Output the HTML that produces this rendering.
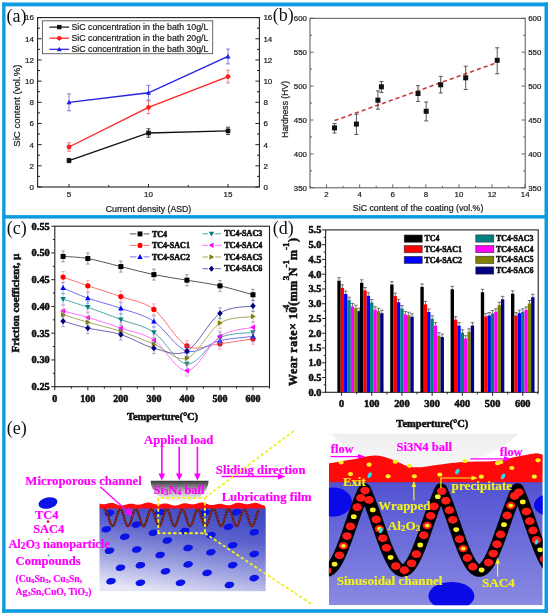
<!DOCTYPE html><html><head><meta charset="utf-8"><style>html,body{margin:0;padding:0;background:#fff;width:550px;height:615px;overflow:hidden}svg{display:block;filter:blur(0.5px)}</style></head><body>
<svg width="550" height="615" viewBox="0 0 550 615">
<rect x="0.00" y="0.00" width="550.00" height="615.00" fill="#fff" stroke="none" stroke-width="1" />
<rect x="37.60" y="17.60" width="221.80" height="169.40" fill="none" stroke="#222" stroke-width="1.1" />
<line x1="37.60" y1="187.00" x2="41.60" y2="187.00" stroke="#222" stroke-width="1" />
<line x1="259.40" y1="187.00" x2="255.40" y2="187.00" stroke="#222" stroke-width="1" />
<text x="34.00" y="189.86" font-size="8" text-anchor="end" font-family='"Liberation Sans", sans-serif' fill="#1c1c1c" stroke="#1c1c1c" stroke-width="0.22" >0</text>
<text x="263.40" y="189.86" font-size="8" text-anchor="start" font-family='"Liberation Sans", sans-serif' fill="#1c1c1c" stroke="#1c1c1c" stroke-width="0.22" >0</text>
<line x1="37.60" y1="176.41" x2="40.00" y2="176.41" stroke="#222" stroke-width="1" />
<line x1="259.40" y1="176.41" x2="257.00" y2="176.41" stroke="#222" stroke-width="1" />
<line x1="37.60" y1="165.82" x2="41.60" y2="165.82" stroke="#222" stroke-width="1" />
<line x1="259.40" y1="165.82" x2="255.40" y2="165.82" stroke="#222" stroke-width="1" />
<text x="34.00" y="168.69" font-size="8" text-anchor="end" font-family='"Liberation Sans", sans-serif' fill="#1c1c1c" stroke="#1c1c1c" stroke-width="0.22" >2</text>
<text x="263.40" y="168.69" font-size="8" text-anchor="start" font-family='"Liberation Sans", sans-serif' fill="#1c1c1c" stroke="#1c1c1c" stroke-width="0.22" >2</text>
<line x1="37.60" y1="155.24" x2="40.00" y2="155.24" stroke="#222" stroke-width="1" />
<line x1="259.40" y1="155.24" x2="257.00" y2="155.24" stroke="#222" stroke-width="1" />
<line x1="37.60" y1="144.65" x2="41.60" y2="144.65" stroke="#222" stroke-width="1" />
<line x1="259.40" y1="144.65" x2="255.40" y2="144.65" stroke="#222" stroke-width="1" />
<text x="34.00" y="147.51" font-size="8" text-anchor="end" font-family='"Liberation Sans", sans-serif' fill="#1c1c1c" stroke="#1c1c1c" stroke-width="0.22" >4</text>
<text x="263.40" y="147.51" font-size="8" text-anchor="start" font-family='"Liberation Sans", sans-serif' fill="#1c1c1c" stroke="#1c1c1c" stroke-width="0.22" >4</text>
<line x1="37.60" y1="134.06" x2="40.00" y2="134.06" stroke="#222" stroke-width="1" />
<line x1="259.40" y1="134.06" x2="257.00" y2="134.06" stroke="#222" stroke-width="1" />
<line x1="37.60" y1="123.47" x2="41.60" y2="123.47" stroke="#222" stroke-width="1" />
<line x1="259.40" y1="123.47" x2="255.40" y2="123.47" stroke="#222" stroke-width="1" />
<text x="34.00" y="126.34" font-size="8" text-anchor="end" font-family='"Liberation Sans", sans-serif' fill="#1c1c1c" stroke="#1c1c1c" stroke-width="0.22" >6</text>
<text x="263.40" y="126.34" font-size="8" text-anchor="start" font-family='"Liberation Sans", sans-serif' fill="#1c1c1c" stroke="#1c1c1c" stroke-width="0.22" >6</text>
<line x1="37.60" y1="112.89" x2="40.00" y2="112.89" stroke="#222" stroke-width="1" />
<line x1="259.40" y1="112.89" x2="257.00" y2="112.89" stroke="#222" stroke-width="1" />
<line x1="37.60" y1="102.30" x2="41.60" y2="102.30" stroke="#222" stroke-width="1" />
<line x1="259.40" y1="102.30" x2="255.40" y2="102.30" stroke="#222" stroke-width="1" />
<text x="34.00" y="105.16" font-size="8" text-anchor="end" font-family='"Liberation Sans", sans-serif' fill="#1c1c1c" stroke="#1c1c1c" stroke-width="0.22" >8</text>
<text x="263.40" y="105.16" font-size="8" text-anchor="start" font-family='"Liberation Sans", sans-serif' fill="#1c1c1c" stroke="#1c1c1c" stroke-width="0.22" >8</text>
<line x1="37.60" y1="91.71" x2="40.00" y2="91.71" stroke="#222" stroke-width="1" />
<line x1="259.40" y1="91.71" x2="257.00" y2="91.71" stroke="#222" stroke-width="1" />
<line x1="37.60" y1="81.12" x2="41.60" y2="81.12" stroke="#222" stroke-width="1" />
<line x1="259.40" y1="81.12" x2="255.40" y2="81.12" stroke="#222" stroke-width="1" />
<text x="34.00" y="83.99" font-size="8" text-anchor="end" font-family='"Liberation Sans", sans-serif' fill="#1c1c1c" stroke="#1c1c1c" stroke-width="0.22" >10</text>
<text x="263.40" y="83.99" font-size="8" text-anchor="start" font-family='"Liberation Sans", sans-serif' fill="#1c1c1c" stroke="#1c1c1c" stroke-width="0.22" >10</text>
<line x1="37.60" y1="70.54" x2="40.00" y2="70.54" stroke="#222" stroke-width="1" />
<line x1="259.40" y1="70.54" x2="257.00" y2="70.54" stroke="#222" stroke-width="1" />
<line x1="37.60" y1="59.95" x2="41.60" y2="59.95" stroke="#222" stroke-width="1" />
<line x1="259.40" y1="59.95" x2="255.40" y2="59.95" stroke="#222" stroke-width="1" />
<text x="34.00" y="62.81" font-size="8" text-anchor="end" font-family='"Liberation Sans", sans-serif' fill="#1c1c1c" stroke="#1c1c1c" stroke-width="0.22" >12</text>
<text x="263.40" y="62.81" font-size="8" text-anchor="start" font-family='"Liberation Sans", sans-serif' fill="#1c1c1c" stroke="#1c1c1c" stroke-width="0.22" >12</text>
<line x1="37.60" y1="49.36" x2="40.00" y2="49.36" stroke="#222" stroke-width="1" />
<line x1="259.40" y1="49.36" x2="257.00" y2="49.36" stroke="#222" stroke-width="1" />
<line x1="37.60" y1="38.78" x2="41.60" y2="38.78" stroke="#222" stroke-width="1" />
<line x1="259.40" y1="38.78" x2="255.40" y2="38.78" stroke="#222" stroke-width="1" />
<text x="34.00" y="41.64" font-size="8" text-anchor="end" font-family='"Liberation Sans", sans-serif' fill="#1c1c1c" stroke="#1c1c1c" stroke-width="0.22" >14</text>
<text x="263.40" y="41.64" font-size="8" text-anchor="start" font-family='"Liberation Sans", sans-serif' fill="#1c1c1c" stroke="#1c1c1c" stroke-width="0.22" >14</text>
<line x1="37.60" y1="28.19" x2="40.00" y2="28.19" stroke="#222" stroke-width="1" />
<line x1="259.40" y1="28.19" x2="257.00" y2="28.19" stroke="#222" stroke-width="1" />
<line x1="37.60" y1="17.60" x2="41.60" y2="17.60" stroke="#222" stroke-width="1" />
<line x1="259.40" y1="17.60" x2="255.40" y2="17.60" stroke="#222" stroke-width="1" />
<text x="34.00" y="20.46" font-size="8" text-anchor="end" font-family='"Liberation Sans", sans-serif' fill="#1c1c1c" stroke="#1c1c1c" stroke-width="0.22" >16</text>
<text x="263.40" y="20.46" font-size="8" text-anchor="start" font-family='"Liberation Sans", sans-serif' fill="#1c1c1c" stroke="#1c1c1c" stroke-width="0.22" >16</text>
<line x1="69.00" y1="187.00" x2="69.00" y2="184.00" stroke="#222" stroke-width="1" />
<text x="69.00" y="197.06" font-size="8" text-anchor="middle" font-family='"Liberation Sans", sans-serif' fill="#1c1c1c" stroke="#1c1c1c" stroke-width="0.22" >5</text>
<line x1="148.50" y1="187.00" x2="148.50" y2="184.00" stroke="#222" stroke-width="1" />
<text x="148.50" y="197.06" font-size="8" text-anchor="middle" font-family='"Liberation Sans", sans-serif' fill="#1c1c1c" stroke="#1c1c1c" stroke-width="0.22" >10</text>
<line x1="228.00" y1="187.00" x2="228.00" y2="184.00" stroke="#222" stroke-width="1" />
<text x="228.00" y="197.06" font-size="8" text-anchor="middle" font-family='"Liberation Sans", sans-serif' fill="#1c1c1c" stroke="#1c1c1c" stroke-width="0.22" >15</text>
<line x1="108.75" y1="187.00" x2="108.75" y2="185.00" stroke="#222" stroke-width="1" />
<line x1="188.25" y1="187.00" x2="188.25" y2="185.00" stroke="#222" stroke-width="1" />
<text x="148.50" y="211.83" font-size="8.75" text-anchor="middle" font-family='"Liberation Sans", sans-serif' fill="#1c1c1c" stroke="#1c1c1c" stroke-width="0.22" >Current density (ASD)</text>
<text transform="translate(16.50,105.70) rotate(-90)" x="0" y="3.44" font-size="9.6" text-anchor="middle" font-family='"Liberation Sans", sans-serif' fill="#1c1c1c" stroke="#1c1c1c" stroke-width="0.22" >SiC content (vol.%)</text>
<path d="M69.00,160.53 L148.50,133.00 L228.00,130.89" fill="none" stroke="#111" stroke-width="1.3"/>
<line x1="69.00" y1="162.65" x2="69.00" y2="158.41" stroke="#333" stroke-width="0.9" />
<line x1="67.00" y1="162.65" x2="71.00" y2="162.65" stroke="#333" stroke-width="0.9" />
<line x1="67.00" y1="158.41" x2="71.00" y2="158.41" stroke="#333" stroke-width="0.9" />
<rect x="66.70" y="158.23" width="4.60" height="4.60" fill="#111" stroke="none" stroke-width="1" />
<line x1="148.50" y1="137.24" x2="148.50" y2="128.77" stroke="#333" stroke-width="0.9" />
<line x1="146.50" y1="137.24" x2="150.50" y2="137.24" stroke="#333" stroke-width="0.9" />
<line x1="146.50" y1="128.77" x2="150.50" y2="128.77" stroke="#333" stroke-width="0.9" />
<rect x="146.20" y="130.70" width="4.60" height="4.60" fill="#111" stroke="none" stroke-width="1" />
<line x1="228.00" y1="134.59" x2="228.00" y2="127.18" stroke="#333" stroke-width="0.9" />
<line x1="226.00" y1="134.59" x2="230.00" y2="134.59" stroke="#333" stroke-width="0.9" />
<line x1="226.00" y1="127.18" x2="230.00" y2="127.18" stroke="#333" stroke-width="0.9" />
<rect x="225.70" y="128.59" width="4.60" height="4.60" fill="#111" stroke="none" stroke-width="1" />
<path d="M69.00,146.98 L148.50,107.38 L228.00,76.57" fill="none" stroke="#ff2020" stroke-width="1.3"/>
<line x1="69.00" y1="151.21" x2="69.00" y2="142.74" stroke="#f07070" stroke-width="0.9" />
<line x1="67.00" y1="151.21" x2="71.00" y2="151.21" stroke="#f07070" stroke-width="0.9" />
<line x1="67.00" y1="142.74" x2="71.00" y2="142.74" stroke="#f07070" stroke-width="0.9" />
<circle cx="69.00" cy="146.98" r="2.42" fill="#ff2020"/>
<line x1="148.50" y1="113.73" x2="148.50" y2="101.03" stroke="#f07070" stroke-width="0.9" />
<line x1="146.50" y1="113.73" x2="150.50" y2="113.73" stroke="#f07070" stroke-width="0.9" />
<line x1="146.50" y1="101.03" x2="150.50" y2="101.03" stroke="#f07070" stroke-width="0.9" />
<circle cx="148.50" cy="107.38" r="2.42" fill="#ff2020"/>
<line x1="228.00" y1="82.92" x2="228.00" y2="70.22" stroke="#f07070" stroke-width="0.9" />
<line x1="226.00" y1="82.92" x2="230.00" y2="82.92" stroke="#f07070" stroke-width="0.9" />
<line x1="226.00" y1="70.22" x2="230.00" y2="70.22" stroke="#f07070" stroke-width="0.9" />
<circle cx="228.00" cy="76.57" r="2.42" fill="#ff2020"/>
<path d="M69.00,102.30 L148.50,92.77 L228.00,56.46" fill="none" stroke="#2020e0" stroke-width="1.3"/>
<line x1="69.00" y1="110.77" x2="69.00" y2="93.83" stroke="#7070d0" stroke-width="0.9" />
<line x1="67.00" y1="110.77" x2="71.00" y2="110.77" stroke="#7070d0" stroke-width="0.9" />
<line x1="67.00" y1="93.83" x2="71.00" y2="93.83" stroke="#7070d0" stroke-width="0.9" />
<path d="M69.00,99.66 L71.53,104.25 L66.47,104.25 Z" fill="#2020e0"/>
<line x1="148.50" y1="100.18" x2="148.50" y2="85.36" stroke="#7070d0" stroke-width="0.9" />
<line x1="146.50" y1="100.18" x2="150.50" y2="100.18" stroke="#7070d0" stroke-width="0.9" />
<line x1="146.50" y1="85.36" x2="150.50" y2="85.36" stroke="#7070d0" stroke-width="0.9" />
<path d="M148.50,90.13 L151.03,94.73 L145.97,94.73 Z" fill="#2020e0"/>
<line x1="228.00" y1="63.87" x2="228.00" y2="49.04" stroke="#7070d0" stroke-width="0.9" />
<line x1="226.00" y1="63.87" x2="230.00" y2="63.87" stroke="#7070d0" stroke-width="0.9" />
<line x1="226.00" y1="49.04" x2="230.00" y2="49.04" stroke="#7070d0" stroke-width="0.9" />
<path d="M228.00,53.81 L230.53,58.41 L225.47,58.41 Z" fill="#2020e0"/>
<rect x="42.40" y="20.80" width="170.30" height="32.90" fill="#fff" stroke="#555" stroke-width="0.9" />
<line x1="49.40" y1="27.10" x2="69.10" y2="27.10" stroke="#111" stroke-width="1.2" />
<rect x="57.10" y="24.90" width="4.40" height="4.40" fill="#111" stroke="none" stroke-width="1" />
<text x="71.50" y="30.24" font-size="8.78" text-anchor="start" font-family='"Liberation Sans", sans-serif' fill="#1c1c1c" stroke="#1c1c1c" stroke-width="0.22" >SiC concentration in the bath 10g/L</text>
<line x1="49.40" y1="38.20" x2="69.10" y2="38.20" stroke="#ff2020" stroke-width="1.2" />
<circle cx="59.30" cy="38.20" r="2.31" fill="#ff2020"/>
<text x="71.50" y="41.34" font-size="8.78" text-anchor="start" font-family='"Liberation Sans", sans-serif' fill="#1c1c1c" stroke="#1c1c1c" stroke-width="0.22" >SiC concentration in the bath 20g/L</text>
<line x1="49.40" y1="49.30" x2="69.10" y2="49.30" stroke="#2020e0" stroke-width="1.2" />
<path d="M59.30,46.77 L61.72,51.17 L56.88,51.17 Z" fill="#2020e0"/>
<text x="71.50" y="52.44" font-size="8.78" text-anchor="start" font-family='"Liberation Sans", sans-serif' fill="#1c1c1c" stroke="#1c1c1c" stroke-width="0.22" >SiC concentration in the bath 30g/L</text>
<rect x="310.00" y="18.30" width="215.20" height="169.50" fill="none" stroke="#555" stroke-width="1" />
<line x1="310.00" y1="187.80" x2="313.50" y2="187.80" stroke="#555" stroke-width="0.9" />
<line x1="525.20" y1="187.80" x2="521.70" y2="187.80" stroke="#555" stroke-width="0.9" />
<text x="307.00" y="190.63" font-size="7.9" text-anchor="end" font-family='"Liberation Sans", sans-serif' fill="#1c1c1c" stroke="#1c1c1c" stroke-width="0.22" >350</text>
<text x="528.20" y="190.63" font-size="7.9" text-anchor="start" font-family='"Liberation Sans", sans-serif' fill="#1c1c1c" stroke="#1c1c1c" stroke-width="0.22" >350</text>
<line x1="310.00" y1="170.85" x2="312.00" y2="170.85" stroke="#555" stroke-width="0.9" />
<line x1="525.20" y1="170.85" x2="523.20" y2="170.85" stroke="#555" stroke-width="0.9" />
<line x1="310.00" y1="153.90" x2="313.50" y2="153.90" stroke="#555" stroke-width="0.9" />
<line x1="525.20" y1="153.90" x2="521.70" y2="153.90" stroke="#555" stroke-width="0.9" />
<text x="307.00" y="156.73" font-size="7.9" text-anchor="end" font-family='"Liberation Sans", sans-serif' fill="#1c1c1c" stroke="#1c1c1c" stroke-width="0.22" >400</text>
<text x="528.20" y="156.73" font-size="7.9" text-anchor="start" font-family='"Liberation Sans", sans-serif' fill="#1c1c1c" stroke="#1c1c1c" stroke-width="0.22" >400</text>
<line x1="310.00" y1="136.95" x2="312.00" y2="136.95" stroke="#555" stroke-width="0.9" />
<line x1="525.20" y1="136.95" x2="523.20" y2="136.95" stroke="#555" stroke-width="0.9" />
<line x1="310.00" y1="120.00" x2="313.50" y2="120.00" stroke="#555" stroke-width="0.9" />
<line x1="525.20" y1="120.00" x2="521.70" y2="120.00" stroke="#555" stroke-width="0.9" />
<text x="307.00" y="122.83" font-size="7.9" text-anchor="end" font-family='"Liberation Sans", sans-serif' fill="#1c1c1c" stroke="#1c1c1c" stroke-width="0.22" >450</text>
<text x="528.20" y="122.83" font-size="7.9" text-anchor="start" font-family='"Liberation Sans", sans-serif' fill="#1c1c1c" stroke="#1c1c1c" stroke-width="0.22" >450</text>
<line x1="310.00" y1="103.05" x2="312.00" y2="103.05" stroke="#555" stroke-width="0.9" />
<line x1="525.20" y1="103.05" x2="523.20" y2="103.05" stroke="#555" stroke-width="0.9" />
<line x1="310.00" y1="86.10" x2="313.50" y2="86.10" stroke="#555" stroke-width="0.9" />
<line x1="525.20" y1="86.10" x2="521.70" y2="86.10" stroke="#555" stroke-width="0.9" />
<text x="307.00" y="88.93" font-size="7.9" text-anchor="end" font-family='"Liberation Sans", sans-serif' fill="#1c1c1c" stroke="#1c1c1c" stroke-width="0.22" >500</text>
<text x="528.20" y="88.93" font-size="7.9" text-anchor="start" font-family='"Liberation Sans", sans-serif' fill="#1c1c1c" stroke="#1c1c1c" stroke-width="0.22" >500</text>
<line x1="310.00" y1="69.15" x2="312.00" y2="69.15" stroke="#555" stroke-width="0.9" />
<line x1="525.20" y1="69.15" x2="523.20" y2="69.15" stroke="#555" stroke-width="0.9" />
<line x1="310.00" y1="52.20" x2="313.50" y2="52.20" stroke="#555" stroke-width="0.9" />
<line x1="525.20" y1="52.20" x2="521.70" y2="52.20" stroke="#555" stroke-width="0.9" />
<text x="307.00" y="55.03" font-size="7.9" text-anchor="end" font-family='"Liberation Sans", sans-serif' fill="#1c1c1c" stroke="#1c1c1c" stroke-width="0.22" >550</text>
<text x="528.20" y="55.03" font-size="7.9" text-anchor="start" font-family='"Liberation Sans", sans-serif' fill="#1c1c1c" stroke="#1c1c1c" stroke-width="0.22" >550</text>
<line x1="310.00" y1="35.25" x2="312.00" y2="35.25" stroke="#555" stroke-width="0.9" />
<line x1="525.20" y1="35.25" x2="523.20" y2="35.25" stroke="#555" stroke-width="0.9" />
<line x1="310.00" y1="18.30" x2="313.50" y2="18.30" stroke="#555" stroke-width="0.9" />
<line x1="525.20" y1="18.30" x2="521.70" y2="18.30" stroke="#555" stroke-width="0.9" />
<text x="307.00" y="21.13" font-size="7.9" text-anchor="end" font-family='"Liberation Sans", sans-serif' fill="#1c1c1c" stroke="#1c1c1c" stroke-width="0.22" >600</text>
<text x="528.20" y="21.13" font-size="7.9" text-anchor="start" font-family='"Liberation Sans", sans-serif' fill="#1c1c1c" stroke="#1c1c1c" stroke-width="0.22" >600</text>
<line x1="310.00" y1="187.80" x2="310.00" y2="185.80" stroke="#555" stroke-width="0.9" />
<line x1="326.55" y1="187.80" x2="326.55" y2="184.30" stroke="#555" stroke-width="0.9" />
<text x="326.55" y="197.43" font-size="7.9" text-anchor="middle" font-family='"Liberation Sans", sans-serif' fill="#1c1c1c" stroke="#1c1c1c" stroke-width="0.22" >2</text>
<line x1="343.11" y1="187.80" x2="343.11" y2="185.80" stroke="#555" stroke-width="0.9" />
<line x1="359.66" y1="187.80" x2="359.66" y2="184.30" stroke="#555" stroke-width="0.9" />
<text x="359.66" y="197.43" font-size="7.9" text-anchor="middle" font-family='"Liberation Sans", sans-serif' fill="#1c1c1c" stroke="#1c1c1c" stroke-width="0.22" >4</text>
<line x1="376.22" y1="187.80" x2="376.22" y2="185.80" stroke="#555" stroke-width="0.9" />
<line x1="392.77" y1="187.80" x2="392.77" y2="184.30" stroke="#555" stroke-width="0.9" />
<text x="392.77" y="197.43" font-size="7.9" text-anchor="middle" font-family='"Liberation Sans", sans-serif' fill="#1c1c1c" stroke="#1c1c1c" stroke-width="0.22" >6</text>
<line x1="409.32" y1="187.80" x2="409.32" y2="185.80" stroke="#555" stroke-width="0.9" />
<line x1="425.88" y1="187.80" x2="425.88" y2="184.30" stroke="#555" stroke-width="0.9" />
<text x="425.88" y="197.43" font-size="7.9" text-anchor="middle" font-family='"Liberation Sans", sans-serif' fill="#1c1c1c" stroke="#1c1c1c" stroke-width="0.22" >8</text>
<line x1="442.43" y1="187.80" x2="442.43" y2="185.80" stroke="#555" stroke-width="0.9" />
<line x1="458.98" y1="187.80" x2="458.98" y2="184.30" stroke="#555" stroke-width="0.9" />
<text x="458.98" y="197.43" font-size="7.9" text-anchor="middle" font-family='"Liberation Sans", sans-serif' fill="#1c1c1c" stroke="#1c1c1c" stroke-width="0.22" >10</text>
<line x1="475.54" y1="187.80" x2="475.54" y2="185.80" stroke="#555" stroke-width="0.9" />
<line x1="492.09" y1="187.80" x2="492.09" y2="184.30" stroke="#555" stroke-width="0.9" />
<text x="492.09" y="197.43" font-size="7.9" text-anchor="middle" font-family='"Liberation Sans", sans-serif' fill="#1c1c1c" stroke="#1c1c1c" stroke-width="0.22" >12</text>
<line x1="508.65" y1="187.80" x2="508.65" y2="185.80" stroke="#555" stroke-width="0.9" />
<line x1="525.20" y1="187.80" x2="525.20" y2="184.30" stroke="#555" stroke-width="0.9" />
<text x="525.20" y="197.43" font-size="7.9" text-anchor="middle" font-family='"Liberation Sans", sans-serif' fill="#1c1c1c" stroke="#1c1c1c" stroke-width="0.22" >14</text>
<text x="418.10" y="211.25" font-size="8.8" text-anchor="middle" font-family='"Liberation Sans", sans-serif' fill="#1c1c1c" stroke="#1c1c1c" stroke-width="0.22" >SiC content of the coating (vol.%)</text>
<text transform="translate(285.40,109.40) rotate(-90)" x="0" y="3.08" font-size="8.6" text-anchor="middle" font-family='"Liberation Sans", sans-serif' fill="#1c1c1c" stroke="#1c1c1c" stroke-width="0.22" >Hardness (HV)</text>
<path d="M334.5,120.6 L497.8,62.3" stroke="#c83c3c" stroke-width="1.6" stroke-dasharray="4.2,3" fill="none"/>
<line x1="334.50" y1="123.50" x2="334.50" y2="133.00" stroke="#444" stroke-width="0.9" />
<line x1="332.50" y1="123.50" x2="336.50" y2="123.50" stroke="#444" stroke-width="0.9" />
<line x1="332.50" y1="133.00" x2="336.50" y2="133.00" stroke="#444" stroke-width="0.9" />
<rect x="332.00" y="125.40" width="5.00" height="5.00" fill="#111" stroke="none" stroke-width="1" />
<line x1="356.40" y1="114.20" x2="356.40" y2="134.50" stroke="#444" stroke-width="0.9" />
<line x1="354.40" y1="114.20" x2="358.40" y2="114.20" stroke="#444" stroke-width="0.9" />
<line x1="354.40" y1="134.50" x2="358.40" y2="134.50" stroke="#444" stroke-width="0.9" />
<rect x="353.90" y="121.60" width="5.00" height="5.00" fill="#111" stroke="none" stroke-width="1" />
<line x1="377.90" y1="90.90" x2="377.90" y2="109.20" stroke="#444" stroke-width="0.9" />
<line x1="375.90" y1="90.90" x2="379.90" y2="90.90" stroke="#444" stroke-width="0.9" />
<line x1="375.90" y1="109.20" x2="379.90" y2="109.20" stroke="#444" stroke-width="0.9" />
<rect x="375.40" y="97.70" width="5.00" height="5.00" fill="#111" stroke="none" stroke-width="1" />
<line x1="381.40" y1="81.60" x2="381.40" y2="92.40" stroke="#444" stroke-width="0.9" />
<line x1="379.40" y1="81.60" x2="383.40" y2="81.60" stroke="#444" stroke-width="0.9" />
<line x1="379.40" y1="92.40" x2="383.40" y2="92.40" stroke="#444" stroke-width="0.9" />
<rect x="378.90" y="84.30" width="5.00" height="5.00" fill="#111" stroke="none" stroke-width="1" />
<line x1="418.00" y1="85.70" x2="418.00" y2="101.40" stroke="#444" stroke-width="0.9" />
<line x1="416.00" y1="85.70" x2="420.00" y2="85.70" stroke="#444" stroke-width="0.9" />
<line x1="416.00" y1="101.40" x2="420.00" y2="101.40" stroke="#444" stroke-width="0.9" />
<rect x="415.50" y="91.00" width="5.00" height="5.00" fill="#111" stroke="none" stroke-width="1" />
<line x1="426.20" y1="102.00" x2="426.20" y2="120.90" stroke="#444" stroke-width="0.9" />
<line x1="424.20" y1="102.00" x2="428.20" y2="102.00" stroke="#444" stroke-width="0.9" />
<line x1="424.20" y1="120.90" x2="428.20" y2="120.90" stroke="#444" stroke-width="0.9" />
<rect x="423.70" y="108.80" width="5.00" height="5.00" fill="#111" stroke="none" stroke-width="1" />
<line x1="440.70" y1="76.40" x2="440.70" y2="93.00" stroke="#444" stroke-width="0.9" />
<line x1="438.70" y1="76.40" x2="442.70" y2="76.40" stroke="#444" stroke-width="0.9" />
<line x1="438.70" y1="93.00" x2="442.70" y2="93.00" stroke="#444" stroke-width="0.9" />
<rect x="438.20" y="82.30" width="5.00" height="5.00" fill="#111" stroke="none" stroke-width="1" />
<line x1="465.70" y1="66.20" x2="465.70" y2="89.50" stroke="#444" stroke-width="0.9" />
<line x1="463.70" y1="66.20" x2="467.70" y2="66.20" stroke="#444" stroke-width="0.9" />
<line x1="463.70" y1="89.50" x2="467.70" y2="89.50" stroke="#444" stroke-width="0.9" />
<rect x="463.20" y="75.30" width="5.00" height="5.00" fill="#111" stroke="none" stroke-width="1" />
<line x1="497.20" y1="47.80" x2="497.20" y2="73.80" stroke="#444" stroke-width="0.9" />
<line x1="495.20" y1="47.80" x2="499.20" y2="47.80" stroke="#444" stroke-width="0.9" />
<line x1="495.20" y1="73.80" x2="499.20" y2="73.80" stroke="#444" stroke-width="0.9" />
<rect x="494.70" y="57.80" width="5.00" height="5.00" fill="#111" stroke="none" stroke-width="1" />
<rect x="54.80" y="226.20" width="214.70" height="160.50" fill="none" stroke="#222" stroke-width="1.1" />
<line x1="54.80" y1="386.70" x2="51.30" y2="386.70" stroke="#222" stroke-width="1" />
<text x="49.80" y="390.13" font-size="10.4" text-anchor="end" font-family='"Liberation Serif", serif' font-weight="bold" fill="#111" stroke="#111" stroke-width="0.55" >0.25</text>
<line x1="54.80" y1="373.32" x2="52.80" y2="373.32" stroke="#222" stroke-width="1" />
<line x1="54.80" y1="359.95" x2="51.30" y2="359.95" stroke="#222" stroke-width="1" />
<text x="49.80" y="363.38" font-size="10.4" text-anchor="end" font-family='"Liberation Serif", serif' font-weight="bold" fill="#111" stroke="#111" stroke-width="0.55" >0.30</text>
<line x1="54.80" y1="346.57" x2="52.80" y2="346.57" stroke="#222" stroke-width="1" />
<line x1="54.80" y1="333.20" x2="51.30" y2="333.20" stroke="#222" stroke-width="1" />
<text x="49.80" y="336.63" font-size="10.4" text-anchor="end" font-family='"Liberation Serif", serif' font-weight="bold" fill="#111" stroke="#111" stroke-width="0.55" >0.35</text>
<line x1="54.80" y1="319.82" x2="52.80" y2="319.82" stroke="#222" stroke-width="1" />
<line x1="54.80" y1="306.45" x2="51.30" y2="306.45" stroke="#222" stroke-width="1" />
<text x="49.80" y="309.88" font-size="10.4" text-anchor="end" font-family='"Liberation Serif", serif' font-weight="bold" fill="#111" stroke="#111" stroke-width="0.55" >0.40</text>
<line x1="54.80" y1="293.07" x2="52.80" y2="293.07" stroke="#222" stroke-width="1" />
<line x1="54.80" y1="279.70" x2="51.30" y2="279.70" stroke="#222" stroke-width="1" />
<text x="49.80" y="283.13" font-size="10.4" text-anchor="end" font-family='"Liberation Serif", serif' font-weight="bold" fill="#111" stroke="#111" stroke-width="0.55" >0.45</text>
<line x1="54.80" y1="266.32" x2="52.80" y2="266.32" stroke="#222" stroke-width="1" />
<line x1="54.80" y1="252.95" x2="51.30" y2="252.95" stroke="#222" stroke-width="1" />
<text x="49.80" y="256.38" font-size="10.4" text-anchor="end" font-family='"Liberation Serif", serif' font-weight="bold" fill="#111" stroke="#111" stroke-width="0.55" >0.50</text>
<line x1="54.80" y1="239.57" x2="52.80" y2="239.57" stroke="#222" stroke-width="1" />
<line x1="54.80" y1="226.20" x2="51.30" y2="226.20" stroke="#222" stroke-width="1" />
<text x="49.80" y="229.63" font-size="10.4" text-anchor="end" font-family='"Liberation Serif", serif' font-weight="bold" fill="#111" stroke="#111" stroke-width="0.55" >0.55</text>
<line x1="54.80" y1="386.70" x2="54.80" y2="390.20" stroke="#222" stroke-width="1" />
<text x="54.80" y="401.50" font-size="10" text-anchor="middle" font-family='"Liberation Serif", serif' font-weight="bold" fill="#111" stroke="#111" stroke-width="0.55" >0</text>
<line x1="71.32" y1="386.70" x2="71.32" y2="388.70" stroke="#222" stroke-width="1" />
<line x1="87.83" y1="386.70" x2="87.83" y2="390.20" stroke="#222" stroke-width="1" />
<text x="87.83" y="401.50" font-size="10" text-anchor="middle" font-family='"Liberation Serif", serif' font-weight="bold" fill="#111" stroke="#111" stroke-width="0.55" >100</text>
<line x1="104.35" y1="386.70" x2="104.35" y2="388.70" stroke="#222" stroke-width="1" />
<line x1="120.86" y1="386.70" x2="120.86" y2="390.20" stroke="#222" stroke-width="1" />
<text x="120.86" y="401.50" font-size="10" text-anchor="middle" font-family='"Liberation Serif", serif' font-weight="bold" fill="#111" stroke="#111" stroke-width="0.55" >200</text>
<line x1="137.38" y1="386.70" x2="137.38" y2="388.70" stroke="#222" stroke-width="1" />
<line x1="153.89" y1="386.70" x2="153.89" y2="390.20" stroke="#222" stroke-width="1" />
<text x="153.89" y="401.50" font-size="10" text-anchor="middle" font-family='"Liberation Serif", serif' font-weight="bold" fill="#111" stroke="#111" stroke-width="0.55" >300</text>
<line x1="170.41" y1="386.70" x2="170.41" y2="388.70" stroke="#222" stroke-width="1" />
<line x1="186.92" y1="386.70" x2="186.92" y2="390.20" stroke="#222" stroke-width="1" />
<text x="186.92" y="401.50" font-size="10" text-anchor="middle" font-family='"Liberation Serif", serif' font-weight="bold" fill="#111" stroke="#111" stroke-width="0.55" >400</text>
<line x1="203.44" y1="386.70" x2="203.44" y2="388.70" stroke="#222" stroke-width="1" />
<line x1="219.95" y1="386.70" x2="219.95" y2="390.20" stroke="#222" stroke-width="1" />
<text x="219.95" y="401.50" font-size="10" text-anchor="middle" font-family='"Liberation Serif", serif' font-weight="bold" fill="#111" stroke="#111" stroke-width="0.55" >500</text>
<line x1="236.47" y1="386.70" x2="236.47" y2="388.70" stroke="#222" stroke-width="1" />
<line x1="252.98" y1="386.70" x2="252.98" y2="390.20" stroke="#222" stroke-width="1" />
<text x="252.98" y="401.50" font-size="10" text-anchor="middle" font-family='"Liberation Serif", serif' font-weight="bold" fill="#111" stroke="#111" stroke-width="0.55" >600</text>
<line x1="269.50" y1="386.70" x2="269.50" y2="388.70" stroke="#222" stroke-width="1" />
<text x="162.50" y="420.23" font-size="10.4" text-anchor="middle" font-family='"Liberation Serif", serif' font-weight="bold" fill="#111" stroke="#111" stroke-width="0.55" >Temperture(°C)</text>
<text transform="translate(15.50,303.00) rotate(-90)" x="0" y="3.56" font-size="10.8" text-anchor="middle" font-family='"Liberation Serif", serif' font-weight="bold" fill="#111" stroke="#111" stroke-width="0.55" >Friction coefficient, μ</text>
<path d="M63.06,256.43 C67.19,256.78 78.20,256.87 87.83,258.56 C97.46,260.26 109.85,263.91 120.86,266.59 C131.87,269.26 142.88,272.35 153.89,274.61 C164.90,276.88 175.91,278.31 186.92,280.18 C197.93,282.05 208.94,283.42 219.95,285.85 C230.96,288.28 247.48,293.30 252.98,294.78" fill="none" stroke="#555" stroke-width="1"/>
<path d="M63.06,277.02 C67.19,278.49 78.20,282.60 87.83,285.85 C97.46,289.10 109.85,292.63 120.86,296.55 C131.87,300.47 142.88,301.15 153.89,309.39 C164.90,317.63 175.91,340.28 186.92,345.98 C197.93,351.69 208.94,344.82 219.95,343.63 C230.96,342.44 247.48,339.62 252.98,338.81" fill="none" stroke="#ff7070" stroke-width="1"/>
<path d="M63.06,287.99 C67.19,289.68 78.20,294.77 87.83,298.16 C97.46,301.54 109.85,304.44 120.86,308.32 C131.87,312.20 142.88,314.29 153.89,321.43 C164.90,328.56 175.91,347.92 186.92,351.12 C197.93,354.32 208.94,343.09 219.95,340.63 C230.96,338.18 247.48,337.11 252.98,336.41" fill="none" stroke="#7070f0" stroke-width="1"/>
<path d="M63.06,299.23 C67.19,300.56 78.20,303.86 87.83,307.25 C97.46,310.64 109.85,315.36 120.86,319.56 C131.87,323.75 142.88,324.99 153.89,332.39 C164.90,339.80 175.91,363.07 186.92,363.96 C197.93,364.85 208.94,343.01 219.95,337.75 C230.96,332.48 247.48,333.29 252.98,332.39" fill="none" stroke="#50a8a8" stroke-width="1"/>
<path d="M63.06,311.00 C67.19,312.06 78.20,314.56 87.83,317.42 C97.46,320.27 109.85,324.33 120.86,328.12 C131.87,331.90 142.88,333.06 153.89,340.15 C164.90,347.24 175.91,371.27 186.92,370.65 C197.93,370.02 208.94,343.64 219.95,336.41 C230.96,329.18 247.48,328.78 252.98,327.26" fill="none" stroke="#ff70ff" stroke-width="1"/>
<path d="M63.06,314.74 C67.19,315.99 78.20,319.47 87.83,322.23 C97.46,324.99 109.85,327.67 120.86,331.32 C131.87,334.98 142.88,339.69 153.89,344.17 C164.90,348.64 175.91,361.70 186.92,358.18 C197.93,354.67 208.94,330.02 219.95,323.09 C230.96,316.15 247.48,317.65 252.98,316.56" fill="none" stroke="#a8a860" stroke-width="1"/>
<path d="M63.06,321.16 C67.19,322.32 78.20,325.89 87.83,328.12 C97.46,330.34 109.85,331.19 120.86,334.54 C131.87,337.88 142.88,345.41 153.89,348.18 C164.90,350.94 175.91,356.93 186.92,351.12 C197.93,345.31 208.94,320.82 219.95,313.30 C230.96,305.77 247.48,307.19 252.98,305.97" fill="none" stroke="#6868b0" stroke-width="1"/>
<line x1="63.06" y1="250.93" x2="63.06" y2="261.93" stroke="#555" stroke-width="0.7" opacity="0.8"/>
<line x1="61.26" y1="250.93" x2="64.86" y2="250.93" stroke="#555" stroke-width="0.7" opacity="0.8"/>
<line x1="61.26" y1="261.93" x2="64.86" y2="261.93" stroke="#555" stroke-width="0.7" opacity="0.8"/>
<rect x="60.56" y="253.93" width="5.00" height="5.00" fill="#000" stroke="none" stroke-width="1" />
<line x1="87.83" y1="253.06" x2="87.83" y2="264.06" stroke="#555" stroke-width="0.7" opacity="0.8"/>
<line x1="86.03" y1="253.06" x2="89.63" y2="253.06" stroke="#555" stroke-width="0.7" opacity="0.8"/>
<line x1="86.03" y1="264.06" x2="89.63" y2="264.06" stroke="#555" stroke-width="0.7" opacity="0.8"/>
<rect x="85.33" y="256.06" width="5.00" height="5.00" fill="#000" stroke="none" stroke-width="1" />
<line x1="120.86" y1="261.09" x2="120.86" y2="272.09" stroke="#555" stroke-width="0.7" opacity="0.8"/>
<line x1="119.06" y1="261.09" x2="122.66" y2="261.09" stroke="#555" stroke-width="0.7" opacity="0.8"/>
<line x1="119.06" y1="272.09" x2="122.66" y2="272.09" stroke="#555" stroke-width="0.7" opacity="0.8"/>
<rect x="118.36" y="264.09" width="5.00" height="5.00" fill="#000" stroke="none" stroke-width="1" />
<line x1="153.89" y1="269.11" x2="153.89" y2="280.11" stroke="#555" stroke-width="0.7" opacity="0.8"/>
<line x1="152.09" y1="269.11" x2="155.69" y2="269.11" stroke="#555" stroke-width="0.7" opacity="0.8"/>
<line x1="152.09" y1="280.11" x2="155.69" y2="280.11" stroke="#555" stroke-width="0.7" opacity="0.8"/>
<rect x="151.39" y="272.11" width="5.00" height="5.00" fill="#000" stroke="none" stroke-width="1" />
<line x1="186.92" y1="274.68" x2="186.92" y2="285.68" stroke="#555" stroke-width="0.7" opacity="0.8"/>
<line x1="185.12" y1="274.68" x2="188.72" y2="274.68" stroke="#555" stroke-width="0.7" opacity="0.8"/>
<line x1="185.12" y1="285.68" x2="188.72" y2="285.68" stroke="#555" stroke-width="0.7" opacity="0.8"/>
<rect x="184.42" y="277.68" width="5.00" height="5.00" fill="#000" stroke="none" stroke-width="1" />
<line x1="219.95" y1="280.35" x2="219.95" y2="291.35" stroke="#555" stroke-width="0.7" opacity="0.8"/>
<line x1="218.15" y1="280.35" x2="221.75" y2="280.35" stroke="#555" stroke-width="0.7" opacity="0.8"/>
<line x1="218.15" y1="291.35" x2="221.75" y2="291.35" stroke="#555" stroke-width="0.7" opacity="0.8"/>
<rect x="217.45" y="283.35" width="5.00" height="5.00" fill="#000" stroke="none" stroke-width="1" />
<line x1="252.98" y1="289.28" x2="252.98" y2="300.28" stroke="#555" stroke-width="0.7" opacity="0.8"/>
<line x1="251.18" y1="289.28" x2="254.78" y2="289.28" stroke="#555" stroke-width="0.7" opacity="0.8"/>
<line x1="251.18" y1="300.28" x2="254.78" y2="300.28" stroke="#555" stroke-width="0.7" opacity="0.8"/>
<rect x="250.48" y="292.28" width="5.00" height="5.00" fill="#000" stroke="none" stroke-width="1" />
<line x1="63.06" y1="271.52" x2="63.06" y2="282.52" stroke="#ff7070" stroke-width="0.7" opacity="0.8"/>
<line x1="61.26" y1="271.52" x2="64.86" y2="271.52" stroke="#ff7070" stroke-width="0.7" opacity="0.8"/>
<line x1="61.26" y1="282.52" x2="64.86" y2="282.52" stroke="#ff7070" stroke-width="0.7" opacity="0.8"/>
<circle cx="63.06" cy="277.02" r="2.62" fill="#ff0000"/>
<line x1="87.83" y1="280.35" x2="87.83" y2="291.35" stroke="#ff7070" stroke-width="0.7" opacity="0.8"/>
<line x1="86.03" y1="280.35" x2="89.63" y2="280.35" stroke="#ff7070" stroke-width="0.7" opacity="0.8"/>
<line x1="86.03" y1="291.35" x2="89.63" y2="291.35" stroke="#ff7070" stroke-width="0.7" opacity="0.8"/>
<circle cx="87.83" cy="285.85" r="2.62" fill="#ff0000"/>
<line x1="120.86" y1="291.05" x2="120.86" y2="302.05" stroke="#ff7070" stroke-width="0.7" opacity="0.8"/>
<line x1="119.06" y1="291.05" x2="122.66" y2="291.05" stroke="#ff7070" stroke-width="0.7" opacity="0.8"/>
<line x1="119.06" y1="302.05" x2="122.66" y2="302.05" stroke="#ff7070" stroke-width="0.7" opacity="0.8"/>
<circle cx="120.86" cy="296.55" r="2.62" fill="#ff0000"/>
<line x1="153.89" y1="303.89" x2="153.89" y2="314.89" stroke="#ff7070" stroke-width="0.7" opacity="0.8"/>
<line x1="152.09" y1="303.89" x2="155.69" y2="303.89" stroke="#ff7070" stroke-width="0.7" opacity="0.8"/>
<line x1="152.09" y1="314.89" x2="155.69" y2="314.89" stroke="#ff7070" stroke-width="0.7" opacity="0.8"/>
<circle cx="153.89" cy="309.39" r="2.62" fill="#ff0000"/>
<line x1="186.92" y1="340.48" x2="186.92" y2="351.48" stroke="#ff7070" stroke-width="0.7" opacity="0.8"/>
<line x1="185.12" y1="340.48" x2="188.72" y2="340.48" stroke="#ff7070" stroke-width="0.7" opacity="0.8"/>
<line x1="185.12" y1="351.48" x2="188.72" y2="351.48" stroke="#ff7070" stroke-width="0.7" opacity="0.8"/>
<circle cx="186.92" cy="345.98" r="2.62" fill="#ff0000"/>
<line x1="219.95" y1="338.13" x2="219.95" y2="349.13" stroke="#ff7070" stroke-width="0.7" opacity="0.8"/>
<line x1="218.15" y1="338.13" x2="221.75" y2="338.13" stroke="#ff7070" stroke-width="0.7" opacity="0.8"/>
<line x1="218.15" y1="349.13" x2="221.75" y2="349.13" stroke="#ff7070" stroke-width="0.7" opacity="0.8"/>
<circle cx="219.95" cy="343.63" r="2.62" fill="#ff0000"/>
<line x1="252.98" y1="333.31" x2="252.98" y2="344.31" stroke="#ff7070" stroke-width="0.7" opacity="0.8"/>
<line x1="251.18" y1="333.31" x2="254.78" y2="333.31" stroke="#ff7070" stroke-width="0.7" opacity="0.8"/>
<line x1="251.18" y1="344.31" x2="254.78" y2="344.31" stroke="#ff7070" stroke-width="0.7" opacity="0.8"/>
<circle cx="252.98" cy="338.81" r="2.62" fill="#ff0000"/>
<line x1="63.06" y1="282.49" x2="63.06" y2="293.49" stroke="#7070f0" stroke-width="0.7" opacity="0.8"/>
<line x1="61.26" y1="282.49" x2="64.86" y2="282.49" stroke="#7070f0" stroke-width="0.7" opacity="0.8"/>
<line x1="61.26" y1="293.49" x2="64.86" y2="293.49" stroke="#7070f0" stroke-width="0.7" opacity="0.8"/>
<path d="M63.06,285.12 L65.81,290.12 L60.31,290.12 Z" fill="#0000ff"/>
<line x1="87.83" y1="292.66" x2="87.83" y2="303.66" stroke="#7070f0" stroke-width="0.7" opacity="0.8"/>
<line x1="86.03" y1="292.66" x2="89.63" y2="292.66" stroke="#7070f0" stroke-width="0.7" opacity="0.8"/>
<line x1="86.03" y1="303.66" x2="89.63" y2="303.66" stroke="#7070f0" stroke-width="0.7" opacity="0.8"/>
<path d="M87.83,295.28 L90.58,300.28 L85.08,300.28 Z" fill="#0000ff"/>
<line x1="120.86" y1="302.82" x2="120.86" y2="313.82" stroke="#7070f0" stroke-width="0.7" opacity="0.8"/>
<line x1="119.06" y1="302.82" x2="122.66" y2="302.82" stroke="#7070f0" stroke-width="0.7" opacity="0.8"/>
<line x1="119.06" y1="313.82" x2="122.66" y2="313.82" stroke="#7070f0" stroke-width="0.7" opacity="0.8"/>
<path d="M120.86,305.44 L123.61,310.44 L118.11,310.44 Z" fill="#0000ff"/>
<line x1="153.89" y1="315.93" x2="153.89" y2="326.93" stroke="#7070f0" stroke-width="0.7" opacity="0.8"/>
<line x1="152.09" y1="315.93" x2="155.69" y2="315.93" stroke="#7070f0" stroke-width="0.7" opacity="0.8"/>
<line x1="152.09" y1="326.93" x2="155.69" y2="326.93" stroke="#7070f0" stroke-width="0.7" opacity="0.8"/>
<path d="M153.89,318.55 L156.64,323.55 L151.14,323.55 Z" fill="#0000ff"/>
<line x1="186.92" y1="345.62" x2="186.92" y2="356.62" stroke="#7070f0" stroke-width="0.7" opacity="0.8"/>
<line x1="185.12" y1="345.62" x2="188.72" y2="345.62" stroke="#7070f0" stroke-width="0.7" opacity="0.8"/>
<line x1="185.12" y1="356.62" x2="188.72" y2="356.62" stroke="#7070f0" stroke-width="0.7" opacity="0.8"/>
<path d="M186.92,348.25 L189.67,353.25 L184.17,353.25 Z" fill="#0000ff"/>
<line x1="219.95" y1="335.13" x2="219.95" y2="346.13" stroke="#7070f0" stroke-width="0.7" opacity="0.8"/>
<line x1="218.15" y1="335.13" x2="221.75" y2="335.13" stroke="#7070f0" stroke-width="0.7" opacity="0.8"/>
<line x1="218.15" y1="346.13" x2="221.75" y2="346.13" stroke="#7070f0" stroke-width="0.7" opacity="0.8"/>
<path d="M219.95,337.76 L222.70,342.76 L217.20,342.76 Z" fill="#0000ff"/>
<line x1="252.98" y1="330.91" x2="252.98" y2="341.91" stroke="#7070f0" stroke-width="0.7" opacity="0.8"/>
<line x1="251.18" y1="330.91" x2="254.78" y2="330.91" stroke="#7070f0" stroke-width="0.7" opacity="0.8"/>
<line x1="251.18" y1="341.91" x2="254.78" y2="341.91" stroke="#7070f0" stroke-width="0.7" opacity="0.8"/>
<path d="M252.98,333.53 L255.73,338.53 L250.23,338.53 Z" fill="#0000ff"/>
<line x1="63.06" y1="293.73" x2="63.06" y2="304.73" stroke="#50a8a8" stroke-width="0.7" opacity="0.8"/>
<line x1="61.26" y1="293.73" x2="64.86" y2="293.73" stroke="#50a8a8" stroke-width="0.7" opacity="0.8"/>
<line x1="61.26" y1="304.73" x2="64.86" y2="304.73" stroke="#50a8a8" stroke-width="0.7" opacity="0.8"/>
<path d="M63.06,302.10 L65.81,297.10 L60.31,297.10 Z" fill="#008080"/>
<line x1="87.83" y1="301.75" x2="87.83" y2="312.75" stroke="#50a8a8" stroke-width="0.7" opacity="0.8"/>
<line x1="86.03" y1="301.75" x2="89.63" y2="301.75" stroke="#50a8a8" stroke-width="0.7" opacity="0.8"/>
<line x1="86.03" y1="312.75" x2="89.63" y2="312.75" stroke="#50a8a8" stroke-width="0.7" opacity="0.8"/>
<path d="M87.83,310.12 L90.58,305.12 L85.08,305.12 Z" fill="#008080"/>
<line x1="120.86" y1="314.06" x2="120.86" y2="325.06" stroke="#50a8a8" stroke-width="0.7" opacity="0.8"/>
<line x1="119.06" y1="314.06" x2="122.66" y2="314.06" stroke="#50a8a8" stroke-width="0.7" opacity="0.8"/>
<line x1="119.06" y1="325.06" x2="122.66" y2="325.06" stroke="#50a8a8" stroke-width="0.7" opacity="0.8"/>
<path d="M120.86,322.43 L123.61,317.43 L118.11,317.43 Z" fill="#008080"/>
<line x1="153.89" y1="326.89" x2="153.89" y2="337.89" stroke="#50a8a8" stroke-width="0.7" opacity="0.8"/>
<line x1="152.09" y1="326.89" x2="155.69" y2="326.89" stroke="#50a8a8" stroke-width="0.7" opacity="0.8"/>
<line x1="152.09" y1="337.89" x2="155.69" y2="337.89" stroke="#50a8a8" stroke-width="0.7" opacity="0.8"/>
<path d="M153.89,335.27 L156.64,330.27 L151.14,330.27 Z" fill="#008080"/>
<line x1="186.92" y1="358.46" x2="186.92" y2="369.46" stroke="#50a8a8" stroke-width="0.7" opacity="0.8"/>
<line x1="185.12" y1="358.46" x2="188.72" y2="358.46" stroke="#50a8a8" stroke-width="0.7" opacity="0.8"/>
<line x1="185.12" y1="369.46" x2="188.72" y2="369.46" stroke="#50a8a8" stroke-width="0.7" opacity="0.8"/>
<path d="M186.92,366.83 L189.67,361.83 L184.17,361.83 Z" fill="#008080"/>
<line x1="219.95" y1="332.25" x2="219.95" y2="343.25" stroke="#50a8a8" stroke-width="0.7" opacity="0.8"/>
<line x1="218.15" y1="332.25" x2="221.75" y2="332.25" stroke="#50a8a8" stroke-width="0.7" opacity="0.8"/>
<line x1="218.15" y1="343.25" x2="221.75" y2="343.25" stroke="#50a8a8" stroke-width="0.7" opacity="0.8"/>
<path d="M219.95,340.62 L222.70,335.62 L217.20,335.62 Z" fill="#008080"/>
<line x1="252.98" y1="326.89" x2="252.98" y2="337.89" stroke="#50a8a8" stroke-width="0.7" opacity="0.8"/>
<line x1="251.18" y1="326.89" x2="254.78" y2="326.89" stroke="#50a8a8" stroke-width="0.7" opacity="0.8"/>
<line x1="251.18" y1="337.89" x2="254.78" y2="337.89" stroke="#50a8a8" stroke-width="0.7" opacity="0.8"/>
<path d="M252.98,335.27 L255.73,330.27 L250.23,330.27 Z" fill="#008080"/>
<line x1="63.06" y1="305.50" x2="63.06" y2="316.50" stroke="#ff70ff" stroke-width="0.7" opacity="0.8"/>
<line x1="61.26" y1="305.50" x2="64.86" y2="305.50" stroke="#ff70ff" stroke-width="0.7" opacity="0.8"/>
<line x1="61.26" y1="316.50" x2="64.86" y2="316.50" stroke="#ff70ff" stroke-width="0.7" opacity="0.8"/>
<path d="M60.18,311.00 L65.18,308.25 L65.18,313.75 Z" fill="#ff00ff"/>
<line x1="87.83" y1="311.92" x2="87.83" y2="322.92" stroke="#ff70ff" stroke-width="0.7" opacity="0.8"/>
<line x1="86.03" y1="311.92" x2="89.63" y2="311.92" stroke="#ff70ff" stroke-width="0.7" opacity="0.8"/>
<line x1="86.03" y1="322.92" x2="89.63" y2="322.92" stroke="#ff70ff" stroke-width="0.7" opacity="0.8"/>
<path d="M84.96,317.42 L89.96,314.67 L89.96,320.17 Z" fill="#ff00ff"/>
<line x1="120.86" y1="322.62" x2="120.86" y2="333.62" stroke="#ff70ff" stroke-width="0.7" opacity="0.8"/>
<line x1="119.06" y1="322.62" x2="122.66" y2="322.62" stroke="#ff70ff" stroke-width="0.7" opacity="0.8"/>
<line x1="119.06" y1="333.62" x2="122.66" y2="333.62" stroke="#ff70ff" stroke-width="0.7" opacity="0.8"/>
<path d="M117.99,328.12 L122.99,325.37 L122.99,330.87 Z" fill="#ff00ff"/>
<line x1="153.89" y1="334.65" x2="153.89" y2="345.65" stroke="#ff70ff" stroke-width="0.7" opacity="0.8"/>
<line x1="152.09" y1="334.65" x2="155.69" y2="334.65" stroke="#ff70ff" stroke-width="0.7" opacity="0.8"/>
<line x1="152.09" y1="345.65" x2="155.69" y2="345.65" stroke="#ff70ff" stroke-width="0.7" opacity="0.8"/>
<path d="M151.02,340.15 L156.02,337.40 L156.02,342.90 Z" fill="#ff00ff"/>
<line x1="186.92" y1="365.15" x2="186.92" y2="376.15" stroke="#ff70ff" stroke-width="0.7" opacity="0.8"/>
<line x1="185.12" y1="365.15" x2="188.72" y2="365.15" stroke="#ff70ff" stroke-width="0.7" opacity="0.8"/>
<line x1="185.12" y1="376.15" x2="188.72" y2="376.15" stroke="#ff70ff" stroke-width="0.7" opacity="0.8"/>
<path d="M184.05,370.65 L189.05,367.90 L189.05,373.40 Z" fill="#ff00ff"/>
<line x1="219.95" y1="330.91" x2="219.95" y2="341.91" stroke="#ff70ff" stroke-width="0.7" opacity="0.8"/>
<line x1="218.15" y1="330.91" x2="221.75" y2="330.91" stroke="#ff70ff" stroke-width="0.7" opacity="0.8"/>
<line x1="218.15" y1="341.91" x2="221.75" y2="341.91" stroke="#ff70ff" stroke-width="0.7" opacity="0.8"/>
<path d="M217.08,336.41 L222.08,333.66 L222.08,339.16 Z" fill="#ff00ff"/>
<line x1="252.98" y1="321.76" x2="252.98" y2="332.76" stroke="#ff70ff" stroke-width="0.7" opacity="0.8"/>
<line x1="251.18" y1="321.76" x2="254.78" y2="321.76" stroke="#ff70ff" stroke-width="0.7" opacity="0.8"/>
<line x1="251.18" y1="332.76" x2="254.78" y2="332.76" stroke="#ff70ff" stroke-width="0.7" opacity="0.8"/>
<path d="M250.11,327.26 L255.11,324.51 L255.11,330.01 Z" fill="#ff00ff"/>
<line x1="63.06" y1="309.24" x2="63.06" y2="320.24" stroke="#a8a860" stroke-width="0.7" opacity="0.8"/>
<line x1="61.26" y1="309.24" x2="64.86" y2="309.24" stroke="#a8a860" stroke-width="0.7" opacity="0.8"/>
<line x1="61.26" y1="320.24" x2="64.86" y2="320.24" stroke="#a8a860" stroke-width="0.7" opacity="0.8"/>
<path d="M65.93,314.74 L60.93,311.99 L60.93,317.49 Z" fill="#808000"/>
<line x1="87.83" y1="316.73" x2="87.83" y2="327.73" stroke="#a8a860" stroke-width="0.7" opacity="0.8"/>
<line x1="86.03" y1="316.73" x2="89.63" y2="316.73" stroke="#a8a860" stroke-width="0.7" opacity="0.8"/>
<line x1="86.03" y1="327.73" x2="89.63" y2="327.73" stroke="#a8a860" stroke-width="0.7" opacity="0.8"/>
<path d="M90.71,322.23 L85.71,319.48 L85.71,324.98 Z" fill="#808000"/>
<line x1="120.86" y1="325.82" x2="120.86" y2="336.82" stroke="#a8a860" stroke-width="0.7" opacity="0.8"/>
<line x1="119.06" y1="325.82" x2="122.66" y2="325.82" stroke="#a8a860" stroke-width="0.7" opacity="0.8"/>
<line x1="119.06" y1="336.82" x2="122.66" y2="336.82" stroke="#a8a860" stroke-width="0.7" opacity="0.8"/>
<path d="M123.74,331.32 L118.74,328.57 L118.74,334.07 Z" fill="#808000"/>
<line x1="153.89" y1="338.67" x2="153.89" y2="349.67" stroke="#a8a860" stroke-width="0.7" opacity="0.8"/>
<line x1="152.09" y1="338.67" x2="155.69" y2="338.67" stroke="#a8a860" stroke-width="0.7" opacity="0.8"/>
<line x1="152.09" y1="349.67" x2="155.69" y2="349.67" stroke="#a8a860" stroke-width="0.7" opacity="0.8"/>
<path d="M156.77,344.17 L151.77,341.42 L151.77,346.92 Z" fill="#808000"/>
<line x1="186.92" y1="352.68" x2="186.92" y2="363.68" stroke="#a8a860" stroke-width="0.7" opacity="0.8"/>
<line x1="185.12" y1="352.68" x2="188.72" y2="352.68" stroke="#a8a860" stroke-width="0.7" opacity="0.8"/>
<line x1="185.12" y1="363.68" x2="188.72" y2="363.68" stroke="#a8a860" stroke-width="0.7" opacity="0.8"/>
<path d="M189.80,358.18 L184.80,355.43 L184.80,360.93 Z" fill="#808000"/>
<line x1="219.95" y1="317.59" x2="219.95" y2="328.59" stroke="#a8a860" stroke-width="0.7" opacity="0.8"/>
<line x1="218.15" y1="317.59" x2="221.75" y2="317.59" stroke="#a8a860" stroke-width="0.7" opacity="0.8"/>
<line x1="218.15" y1="328.59" x2="221.75" y2="328.59" stroke="#a8a860" stroke-width="0.7" opacity="0.8"/>
<path d="M222.83,323.09 L217.83,320.34 L217.83,325.84 Z" fill="#808000"/>
<line x1="252.98" y1="311.06" x2="252.98" y2="322.06" stroke="#a8a860" stroke-width="0.7" opacity="0.8"/>
<line x1="251.18" y1="311.06" x2="254.78" y2="311.06" stroke="#a8a860" stroke-width="0.7" opacity="0.8"/>
<line x1="251.18" y1="322.06" x2="254.78" y2="322.06" stroke="#a8a860" stroke-width="0.7" opacity="0.8"/>
<path d="M255.86,316.56 L250.86,313.81 L250.86,319.31 Z" fill="#808000"/>
<line x1="63.06" y1="315.66" x2="63.06" y2="326.66" stroke="#6868b0" stroke-width="0.7" opacity="0.8"/>
<line x1="61.26" y1="315.66" x2="64.86" y2="315.66" stroke="#6868b0" stroke-width="0.7" opacity="0.8"/>
<line x1="61.26" y1="326.66" x2="64.86" y2="326.66" stroke="#6868b0" stroke-width="0.7" opacity="0.8"/>
<path d="M63.06,318.04 L65.81,321.16 L63.06,324.29 L60.31,321.16 Z" fill="#000080"/>
<line x1="87.83" y1="322.62" x2="87.83" y2="333.62" stroke="#6868b0" stroke-width="0.7" opacity="0.8"/>
<line x1="86.03" y1="322.62" x2="89.63" y2="322.62" stroke="#6868b0" stroke-width="0.7" opacity="0.8"/>
<line x1="86.03" y1="333.62" x2="89.63" y2="333.62" stroke="#6868b0" stroke-width="0.7" opacity="0.8"/>
<path d="M87.83,324.99 L90.58,328.12 L87.83,331.24 L85.08,328.12 Z" fill="#000080"/>
<line x1="120.86" y1="329.04" x2="120.86" y2="340.04" stroke="#6868b0" stroke-width="0.7" opacity="0.8"/>
<line x1="119.06" y1="329.04" x2="122.66" y2="329.04" stroke="#6868b0" stroke-width="0.7" opacity="0.8"/>
<line x1="119.06" y1="340.04" x2="122.66" y2="340.04" stroke="#6868b0" stroke-width="0.7" opacity="0.8"/>
<path d="M120.86,331.41 L123.61,334.54 L120.86,337.66 L118.11,334.54 Z" fill="#000080"/>
<line x1="153.89" y1="342.68" x2="153.89" y2="353.68" stroke="#6868b0" stroke-width="0.7" opacity="0.8"/>
<line x1="152.09" y1="342.68" x2="155.69" y2="342.68" stroke="#6868b0" stroke-width="0.7" opacity="0.8"/>
<line x1="152.09" y1="353.68" x2="155.69" y2="353.68" stroke="#6868b0" stroke-width="0.7" opacity="0.8"/>
<path d="M153.89,345.05 L156.64,348.18 L153.89,351.30 L151.14,348.18 Z" fill="#000080"/>
<line x1="186.92" y1="345.62" x2="186.92" y2="356.62" stroke="#6868b0" stroke-width="0.7" opacity="0.8"/>
<line x1="185.12" y1="345.62" x2="188.72" y2="345.62" stroke="#6868b0" stroke-width="0.7" opacity="0.8"/>
<line x1="185.12" y1="356.62" x2="188.72" y2="356.62" stroke="#6868b0" stroke-width="0.7" opacity="0.8"/>
<path d="M186.92,348.00 L189.67,351.12 L186.92,354.25 L184.17,351.12 Z" fill="#000080"/>
<line x1="219.95" y1="307.80" x2="219.95" y2="318.80" stroke="#6868b0" stroke-width="0.7" opacity="0.8"/>
<line x1="218.15" y1="307.80" x2="221.75" y2="307.80" stroke="#6868b0" stroke-width="0.7" opacity="0.8"/>
<line x1="218.15" y1="318.80" x2="221.75" y2="318.80" stroke="#6868b0" stroke-width="0.7" opacity="0.8"/>
<path d="M219.95,310.17 L222.70,313.30 L219.95,316.42 L217.20,313.30 Z" fill="#000080"/>
<line x1="252.98" y1="300.47" x2="252.98" y2="311.47" stroke="#6868b0" stroke-width="0.7" opacity="0.8"/>
<line x1="251.18" y1="300.47" x2="254.78" y2="300.47" stroke="#6868b0" stroke-width="0.7" opacity="0.8"/>
<line x1="251.18" y1="311.47" x2="254.78" y2="311.47" stroke="#6868b0" stroke-width="0.7" opacity="0.8"/>
<path d="M252.98,302.84 L255.73,305.97 L252.98,309.09 L250.23,305.97 Z" fill="#000080"/>
<line x1="130.10" y1="233.90" x2="136.40" y2="233.90" stroke="#555" stroke-width="1" />
<line x1="143.60" y1="233.90" x2="149.50" y2="233.90" stroke="#555" stroke-width="1" />
<rect x="137.55" y="231.45" width="4.90" height="4.90" fill="#000" stroke="none" stroke-width="1" />
<text x="151.90" y="236.56" font-size="8.07" text-anchor="start" font-family='"Liberation Serif", serif' font-weight="bold" fill="#111" stroke="#111" stroke-width="0.55" >TC4</text>
<line x1="130.10" y1="245.40" x2="136.40" y2="245.40" stroke="#ff7070" stroke-width="1" />
<line x1="143.60" y1="245.40" x2="149.50" y2="245.40" stroke="#ff7070" stroke-width="1" />
<circle cx="140.00" cy="245.40" r="2.57" fill="#ff0000"/>
<text x="151.90" y="248.06" font-size="8.07" text-anchor="start" font-family='"Liberation Serif", serif' font-weight="bold" fill="#111" stroke="#111" stroke-width="0.55" >TC4-SAC1</text>
<line x1="130.10" y1="256.90" x2="136.40" y2="256.90" stroke="#7070f0" stroke-width="1" />
<line x1="143.60" y1="256.90" x2="149.50" y2="256.90" stroke="#7070f0" stroke-width="1" />
<path d="M140.00,254.08 L142.69,258.98 L137.31,258.98 Z" fill="#0000ff"/>
<text x="151.90" y="259.56" font-size="8.07" text-anchor="start" font-family='"Liberation Serif", serif' font-weight="bold" fill="#111" stroke="#111" stroke-width="0.55" >TC4-SAC2</text>
<line x1="202.50" y1="233.80" x2="207.90" y2="233.80" stroke="#50a8a8" stroke-width="1" />
<line x1="215.10" y1="233.80" x2="221.00" y2="233.80" stroke="#50a8a8" stroke-width="1" />
<path d="M211.50,236.62 L214.19,231.72 L208.81,231.72 Z" fill="#008080"/>
<text x="224.20" y="236.46" font-size="8.07" text-anchor="start" font-family='"Liberation Serif", serif' font-weight="bold" fill="#111" stroke="#111" stroke-width="0.55" >TC4-SAC3</text>
<line x1="202.50" y1="245.30" x2="207.90" y2="245.30" stroke="#ff70ff" stroke-width="1" />
<line x1="215.10" y1="245.30" x2="221.00" y2="245.30" stroke="#ff70ff" stroke-width="1" />
<path d="M208.68,245.30 L213.58,242.61 L213.58,248.00 Z" fill="#ff00ff"/>
<text x="224.20" y="247.96" font-size="8.07" text-anchor="start" font-family='"Liberation Serif", serif' font-weight="bold" fill="#111" stroke="#111" stroke-width="0.55" >TC4-SAC4</text>
<line x1="202.50" y1="257.00" x2="207.90" y2="257.00" stroke="#a8a860" stroke-width="1" />
<line x1="215.10" y1="257.00" x2="221.00" y2="257.00" stroke="#a8a860" stroke-width="1" />
<path d="M214.32,257.00 L209.42,254.31 L209.42,259.69 Z" fill="#808000"/>
<text x="224.20" y="259.66" font-size="8.07" text-anchor="start" font-family='"Liberation Serif", serif' font-weight="bold" fill="#111" stroke="#111" stroke-width="0.55" >TC4-SAC5</text>
<line x1="202.50" y1="268.70" x2="207.90" y2="268.70" stroke="#6868b0" stroke-width="1" />
<line x1="215.10" y1="268.70" x2="221.00" y2="268.70" stroke="#6868b0" stroke-width="1" />
<path d="M211.50,265.64 L214.19,268.70 L211.50,271.76 L208.81,268.70 Z" fill="#000080"/>
<text x="224.20" y="271.36" font-size="8.07" text-anchor="start" font-family='"Liberation Serif", serif' font-weight="bold" fill="#111" stroke="#111" stroke-width="0.55" >TC4-SAC6</text>
<rect x="325.60" y="229.90" width="212.60" height="162.40" fill="none" stroke="#222" stroke-width="1.1" />
<rect x="337.35" y="280.69" width="3.36" height="111.61" fill="#000000" stroke="none" stroke-width="1" />
<line x1="339.03" y1="277.73" x2="339.03" y2="280.69" stroke="#555" stroke-width="0.8" />
<line x1="337.23" y1="277.73" x2="340.83" y2="277.73" stroke="#555" stroke-width="0.8" />
<rect x="340.71" y="287.77" width="3.36" height="104.53" fill="#ff0000" stroke="none" stroke-width="1" />
<line x1="342.39" y1="284.82" x2="342.39" y2="287.77" stroke="#555" stroke-width="0.8" />
<line x1="340.59" y1="284.82" x2="344.19" y2="284.82" stroke="#555" stroke-width="0.8" />
<rect x="344.07" y="293.97" width="3.36" height="98.33" fill="#0000ff" stroke="none" stroke-width="1" />
<line x1="345.75" y1="291.02" x2="345.75" y2="293.97" stroke="#555" stroke-width="0.8" />
<line x1="343.95" y1="291.02" x2="347.55" y2="291.02" stroke="#555" stroke-width="0.8" />
<rect x="347.43" y="300.17" width="3.36" height="92.13" fill="#008080" stroke="none" stroke-width="1" />
<line x1="349.11" y1="297.22" x2="349.11" y2="300.17" stroke="#555" stroke-width="0.8" />
<line x1="347.31" y1="297.22" x2="350.91" y2="297.22" stroke="#555" stroke-width="0.8" />
<rect x="350.79" y="306.38" width="3.36" height="85.92" fill="#ff00ff" stroke="none" stroke-width="1" />
<line x1="352.47" y1="303.42" x2="352.47" y2="306.38" stroke="#555" stroke-width="0.8" />
<line x1="350.67" y1="303.42" x2="354.27" y2="303.42" stroke="#555" stroke-width="0.8" />
<rect x="354.15" y="308.15" width="3.36" height="84.15" fill="#808000" stroke="none" stroke-width="1" />
<line x1="355.83" y1="305.19" x2="355.83" y2="308.15" stroke="#555" stroke-width="0.8" />
<line x1="354.03" y1="305.19" x2="357.63" y2="305.19" stroke="#555" stroke-width="0.8" />
<rect x="357.51" y="311.10" width="3.36" height="81.20" fill="#000080" stroke="none" stroke-width="1" />
<line x1="359.19" y1="308.15" x2="359.19" y2="311.10" stroke="#555" stroke-width="0.8" />
<line x1="357.39" y1="308.15" x2="360.99" y2="308.15" stroke="#555" stroke-width="0.8" />
<rect x="360.00" y="282.75" width="3.36" height="109.55" fill="#000000" stroke="none" stroke-width="1" />
<line x1="361.68" y1="279.80" x2="361.68" y2="282.75" stroke="#555" stroke-width="0.8" />
<line x1="359.88" y1="279.80" x2="363.48" y2="279.80" stroke="#555" stroke-width="0.8" />
<rect x="363.36" y="290.43" width="3.36" height="101.87" fill="#ff0000" stroke="none" stroke-width="1" />
<line x1="365.04" y1="287.48" x2="365.04" y2="290.43" stroke="#555" stroke-width="0.8" />
<line x1="363.24" y1="287.48" x2="366.84" y2="287.48" stroke="#555" stroke-width="0.8" />
<rect x="366.72" y="295.75" width="3.36" height="96.55" fill="#0000ff" stroke="none" stroke-width="1" />
<line x1="368.40" y1="292.79" x2="368.40" y2="295.75" stroke="#555" stroke-width="0.8" />
<line x1="366.60" y1="292.79" x2="370.20" y2="292.79" stroke="#555" stroke-width="0.8" />
<rect x="370.08" y="302.54" width="3.36" height="89.76" fill="#008080" stroke="none" stroke-width="1" />
<line x1="371.76" y1="299.58" x2="371.76" y2="302.54" stroke="#555" stroke-width="0.8" />
<line x1="369.96" y1="299.58" x2="373.56" y2="299.58" stroke="#555" stroke-width="0.8" />
<rect x="373.44" y="309.62" width="3.36" height="82.68" fill="#ff00ff" stroke="none" stroke-width="1" />
<line x1="375.12" y1="306.67" x2="375.12" y2="309.62" stroke="#555" stroke-width="0.8" />
<line x1="373.32" y1="306.67" x2="376.92" y2="306.67" stroke="#555" stroke-width="0.8" />
<rect x="376.80" y="311.10" width="3.36" height="81.20" fill="#808000" stroke="none" stroke-width="1" />
<line x1="378.48" y1="308.15" x2="378.48" y2="311.10" stroke="#555" stroke-width="0.8" />
<line x1="376.68" y1="308.15" x2="380.28" y2="308.15" stroke="#555" stroke-width="0.8" />
<rect x="380.16" y="313.17" width="3.36" height="79.13" fill="#000080" stroke="none" stroke-width="1" />
<line x1="381.84" y1="310.21" x2="381.84" y2="313.17" stroke="#555" stroke-width="0.8" />
<line x1="380.04" y1="310.21" x2="383.64" y2="310.21" stroke="#555" stroke-width="0.8" />
<rect x="390.20" y="284.53" width="3.36" height="107.77" fill="#000000" stroke="none" stroke-width="1" />
<line x1="391.88" y1="281.57" x2="391.88" y2="284.53" stroke="#555" stroke-width="0.8" />
<line x1="390.08" y1="281.57" x2="393.68" y2="281.57" stroke="#555" stroke-width="0.8" />
<rect x="393.56" y="296.04" width="3.36" height="96.26" fill="#ff0000" stroke="none" stroke-width="1" />
<line x1="395.24" y1="293.09" x2="395.24" y2="296.04" stroke="#555" stroke-width="0.8" />
<line x1="393.44" y1="293.09" x2="397.04" y2="293.09" stroke="#555" stroke-width="0.8" />
<rect x="396.92" y="302.24" width="3.36" height="90.06" fill="#0000ff" stroke="none" stroke-width="1" />
<line x1="398.60" y1="299.29" x2="398.60" y2="302.24" stroke="#555" stroke-width="0.8" />
<line x1="396.80" y1="299.29" x2="400.40" y2="299.29" stroke="#555" stroke-width="0.8" />
<rect x="400.28" y="308.44" width="3.36" height="83.86" fill="#008080" stroke="none" stroke-width="1" />
<line x1="401.96" y1="305.49" x2="401.96" y2="308.44" stroke="#555" stroke-width="0.8" />
<line x1="400.16" y1="305.49" x2="403.76" y2="305.49" stroke="#555" stroke-width="0.8" />
<rect x="403.64" y="314.35" width="3.36" height="77.95" fill="#ff00ff" stroke="none" stroke-width="1" />
<line x1="405.32" y1="311.40" x2="405.32" y2="314.35" stroke="#555" stroke-width="0.8" />
<line x1="403.52" y1="311.40" x2="407.12" y2="311.40" stroke="#555" stroke-width="0.8" />
<rect x="407.00" y="315.23" width="3.36" height="77.07" fill="#808000" stroke="none" stroke-width="1" />
<line x1="408.68" y1="312.28" x2="408.68" y2="315.23" stroke="#555" stroke-width="0.8" />
<line x1="406.88" y1="312.28" x2="410.48" y2="312.28" stroke="#555" stroke-width="0.8" />
<rect x="410.36" y="316.71" width="3.36" height="75.59" fill="#000080" stroke="none" stroke-width="1" />
<line x1="412.04" y1="313.76" x2="412.04" y2="316.71" stroke="#555" stroke-width="0.8" />
<line x1="410.24" y1="313.76" x2="413.84" y2="313.76" stroke="#555" stroke-width="0.8" />
<rect x="420.40" y="286.89" width="3.36" height="105.41" fill="#000000" stroke="none" stroke-width="1" />
<line x1="422.08" y1="283.93" x2="422.08" y2="286.89" stroke="#555" stroke-width="0.8" />
<line x1="420.28" y1="283.93" x2="423.88" y2="283.93" stroke="#555" stroke-width="0.8" />
<rect x="423.76" y="304.31" width="3.36" height="87.99" fill="#ff0000" stroke="none" stroke-width="1" />
<line x1="425.44" y1="301.36" x2="425.44" y2="304.31" stroke="#555" stroke-width="0.8" />
<line x1="423.64" y1="301.36" x2="427.24" y2="301.36" stroke="#555" stroke-width="0.8" />
<rect x="427.12" y="311.99" width="3.36" height="80.31" fill="#0000ff" stroke="none" stroke-width="1" />
<line x1="428.80" y1="309.03" x2="428.80" y2="311.99" stroke="#555" stroke-width="0.8" />
<line x1="427.00" y1="309.03" x2="430.60" y2="309.03" stroke="#555" stroke-width="0.8" />
<rect x="430.48" y="318.78" width="3.36" height="73.52" fill="#008080" stroke="none" stroke-width="1" />
<line x1="432.16" y1="315.82" x2="432.16" y2="318.78" stroke="#555" stroke-width="0.8" />
<line x1="430.36" y1="315.82" x2="433.96" y2="315.82" stroke="#555" stroke-width="0.8" />
<rect x="433.84" y="325.57" width="3.36" height="66.73" fill="#ff00ff" stroke="none" stroke-width="1" />
<line x1="435.52" y1="322.62" x2="435.52" y2="325.57" stroke="#555" stroke-width="0.8" />
<line x1="433.72" y1="322.62" x2="437.32" y2="322.62" stroke="#555" stroke-width="0.8" />
<rect x="437.20" y="335.61" width="3.36" height="56.69" fill="#808000" stroke="none" stroke-width="1" />
<line x1="438.88" y1="332.65" x2="438.88" y2="335.61" stroke="#555" stroke-width="0.8" />
<line x1="437.08" y1="332.65" x2="440.68" y2="332.65" stroke="#555" stroke-width="0.8" />
<rect x="440.56" y="337.08" width="3.36" height="55.22" fill="#000080" stroke="none" stroke-width="1" />
<line x1="442.24" y1="334.13" x2="442.24" y2="337.08" stroke="#555" stroke-width="0.8" />
<line x1="440.44" y1="334.13" x2="444.04" y2="334.13" stroke="#555" stroke-width="0.8" />
<rect x="450.60" y="289.25" width="3.36" height="103.05" fill="#000000" stroke="none" stroke-width="1" />
<line x1="452.28" y1="286.30" x2="452.28" y2="289.25" stroke="#555" stroke-width="0.8" />
<line x1="450.48" y1="286.30" x2="454.08" y2="286.30" stroke="#555" stroke-width="0.8" />
<rect x="453.96" y="319.66" width="3.36" height="72.64" fill="#ff0000" stroke="none" stroke-width="1" />
<line x1="455.64" y1="316.71" x2="455.64" y2="319.66" stroke="#555" stroke-width="0.8" />
<line x1="453.84" y1="316.71" x2="457.44" y2="316.71" stroke="#555" stroke-width="0.8" />
<rect x="457.32" y="325.57" width="3.36" height="66.73" fill="#0000ff" stroke="none" stroke-width="1" />
<line x1="459.00" y1="322.62" x2="459.00" y2="325.57" stroke="#555" stroke-width="0.8" />
<line x1="457.20" y1="322.62" x2="460.80" y2="322.62" stroke="#555" stroke-width="0.8" />
<rect x="460.68" y="332.65" width="3.36" height="59.65" fill="#008080" stroke="none" stroke-width="1" />
<line x1="462.36" y1="329.70" x2="462.36" y2="332.65" stroke="#555" stroke-width="0.8" />
<line x1="460.56" y1="329.70" x2="464.16" y2="329.70" stroke="#555" stroke-width="0.8" />
<rect x="464.04" y="338.56" width="3.36" height="53.74" fill="#ff00ff" stroke="none" stroke-width="1" />
<line x1="465.72" y1="335.61" x2="465.72" y2="338.56" stroke="#555" stroke-width="0.8" />
<line x1="463.92" y1="335.61" x2="467.52" y2="335.61" stroke="#555" stroke-width="0.8" />
<rect x="467.40" y="331.77" width="3.36" height="60.53" fill="#808000" stroke="none" stroke-width="1" />
<line x1="469.08" y1="328.82" x2="469.08" y2="331.77" stroke="#555" stroke-width="0.8" />
<line x1="467.28" y1="328.82" x2="470.88" y2="328.82" stroke="#555" stroke-width="0.8" />
<rect x="470.76" y="325.57" width="3.36" height="66.73" fill="#000080" stroke="none" stroke-width="1" />
<line x1="472.44" y1="322.62" x2="472.44" y2="325.57" stroke="#555" stroke-width="0.8" />
<line x1="470.64" y1="322.62" x2="474.24" y2="322.62" stroke="#555" stroke-width="0.8" />
<rect x="480.80" y="292.20" width="3.36" height="100.10" fill="#000000" stroke="none" stroke-width="1" />
<line x1="482.48" y1="289.25" x2="482.48" y2="292.20" stroke="#555" stroke-width="0.8" />
<line x1="480.68" y1="289.25" x2="484.28" y2="289.25" stroke="#555" stroke-width="0.8" />
<rect x="484.16" y="316.41" width="3.36" height="75.89" fill="#ff0000" stroke="none" stroke-width="1" />
<line x1="485.84" y1="313.46" x2="485.84" y2="316.41" stroke="#555" stroke-width="0.8" />
<line x1="484.04" y1="313.46" x2="487.64" y2="313.46" stroke="#555" stroke-width="0.8" />
<rect x="487.52" y="315.53" width="3.36" height="76.77" fill="#0000ff" stroke="none" stroke-width="1" />
<line x1="489.20" y1="312.58" x2="489.20" y2="315.53" stroke="#555" stroke-width="0.8" />
<line x1="487.40" y1="312.58" x2="491.00" y2="312.58" stroke="#555" stroke-width="0.8" />
<rect x="490.88" y="313.46" width="3.36" height="78.84" fill="#008080" stroke="none" stroke-width="1" />
<line x1="492.56" y1="310.51" x2="492.56" y2="313.46" stroke="#555" stroke-width="0.8" />
<line x1="490.76" y1="310.51" x2="494.36" y2="310.51" stroke="#555" stroke-width="0.8" />
<rect x="494.24" y="311.69" width="3.36" height="80.61" fill="#ff00ff" stroke="none" stroke-width="1" />
<line x1="495.92" y1="308.74" x2="495.92" y2="311.69" stroke="#555" stroke-width="0.8" />
<line x1="494.12" y1="308.74" x2="497.72" y2="308.74" stroke="#555" stroke-width="0.8" />
<rect x="497.60" y="305.19" width="3.36" height="87.11" fill="#808000" stroke="none" stroke-width="1" />
<line x1="499.28" y1="302.24" x2="499.28" y2="305.19" stroke="#555" stroke-width="0.8" />
<line x1="497.48" y1="302.24" x2="501.08" y2="302.24" stroke="#555" stroke-width="0.8" />
<rect x="500.96" y="299.29" width="3.36" height="93.01" fill="#000080" stroke="none" stroke-width="1" />
<line x1="502.64" y1="296.34" x2="502.64" y2="299.29" stroke="#555" stroke-width="0.8" />
<line x1="500.84" y1="296.34" x2="504.44" y2="296.34" stroke="#555" stroke-width="0.8" />
<rect x="511.00" y="293.68" width="3.36" height="98.62" fill="#000000" stroke="none" stroke-width="1" />
<line x1="512.68" y1="290.73" x2="512.68" y2="293.68" stroke="#555" stroke-width="0.8" />
<line x1="510.88" y1="290.73" x2="514.48" y2="290.73" stroke="#555" stroke-width="0.8" />
<rect x="514.36" y="315.53" width="3.36" height="76.77" fill="#ff0000" stroke="none" stroke-width="1" />
<line x1="516.04" y1="312.58" x2="516.04" y2="315.53" stroke="#555" stroke-width="0.8" />
<line x1="514.24" y1="312.58" x2="517.84" y2="312.58" stroke="#555" stroke-width="0.8" />
<rect x="517.72" y="313.17" width="3.36" height="79.13" fill="#0000ff" stroke="none" stroke-width="1" />
<line x1="519.40" y1="310.21" x2="519.40" y2="313.17" stroke="#555" stroke-width="0.8" />
<line x1="517.60" y1="310.21" x2="521.20" y2="310.21" stroke="#555" stroke-width="0.8" />
<rect x="521.08" y="311.69" width="3.36" height="80.61" fill="#008080" stroke="none" stroke-width="1" />
<line x1="522.76" y1="308.74" x2="522.76" y2="311.69" stroke="#555" stroke-width="0.8" />
<line x1="520.96" y1="308.74" x2="524.56" y2="308.74" stroke="#555" stroke-width="0.8" />
<rect x="524.44" y="309.92" width="3.36" height="82.38" fill="#ff00ff" stroke="none" stroke-width="1" />
<line x1="526.12" y1="306.97" x2="526.12" y2="309.92" stroke="#555" stroke-width="0.8" />
<line x1="524.32" y1="306.97" x2="527.92" y2="306.97" stroke="#555" stroke-width="0.8" />
<rect x="527.80" y="303.42" width="3.36" height="88.88" fill="#808000" stroke="none" stroke-width="1" />
<line x1="529.48" y1="300.47" x2="529.48" y2="303.42" stroke="#555" stroke-width="0.8" />
<line x1="527.68" y1="300.47" x2="531.28" y2="300.47" stroke="#555" stroke-width="0.8" />
<rect x="531.16" y="297.22" width="3.36" height="95.08" fill="#000080" stroke="none" stroke-width="1" />
<line x1="532.84" y1="294.27" x2="532.84" y2="297.22" stroke="#555" stroke-width="0.8" />
<line x1="531.04" y1="294.27" x2="534.64" y2="294.27" stroke="#555" stroke-width="0.8" />
<line x1="325.60" y1="392.30" x2="322.10" y2="392.30" stroke="#222" stroke-width="1" />
<text x="321.40" y="395.73" font-size="10.4" text-anchor="end" font-family='"Liberation Serif", serif' font-weight="bold" fill="#111" stroke="#111" stroke-width="0.55" >0.0</text>
<line x1="325.60" y1="384.92" x2="323.60" y2="384.92" stroke="#222" stroke-width="1" />
<line x1="325.60" y1="377.54" x2="322.10" y2="377.54" stroke="#222" stroke-width="1" />
<text x="321.40" y="380.97" font-size="10.4" text-anchor="end" font-family='"Liberation Serif", serif' font-weight="bold" fill="#111" stroke="#111" stroke-width="0.55" >0.5</text>
<line x1="325.60" y1="370.15" x2="323.60" y2="370.15" stroke="#222" stroke-width="1" />
<line x1="325.60" y1="362.77" x2="322.10" y2="362.77" stroke="#222" stroke-width="1" />
<text x="321.40" y="366.20" font-size="10.4" text-anchor="end" font-family='"Liberation Serif", serif' font-weight="bold" fill="#111" stroke="#111" stroke-width="0.55" >1.0</text>
<line x1="325.60" y1="355.39" x2="323.60" y2="355.39" stroke="#222" stroke-width="1" />
<line x1="325.60" y1="348.01" x2="322.10" y2="348.01" stroke="#222" stroke-width="1" />
<text x="321.40" y="351.44" font-size="10.4" text-anchor="end" font-family='"Liberation Serif", serif' font-weight="bold" fill="#111" stroke="#111" stroke-width="0.55" >1.5</text>
<line x1="325.60" y1="340.63" x2="323.60" y2="340.63" stroke="#222" stroke-width="1" />
<line x1="325.60" y1="333.25" x2="322.10" y2="333.25" stroke="#222" stroke-width="1" />
<text x="321.40" y="336.68" font-size="10.4" text-anchor="end" font-family='"Liberation Serif", serif' font-weight="bold" fill="#111" stroke="#111" stroke-width="0.55" >2.0</text>
<line x1="325.60" y1="325.86" x2="323.60" y2="325.86" stroke="#222" stroke-width="1" />
<line x1="325.60" y1="318.48" x2="322.10" y2="318.48" stroke="#222" stroke-width="1" />
<text x="321.40" y="321.91" font-size="10.4" text-anchor="end" font-family='"Liberation Serif", serif' font-weight="bold" fill="#111" stroke="#111" stroke-width="0.55" >2.5</text>
<line x1="325.60" y1="311.10" x2="323.60" y2="311.10" stroke="#222" stroke-width="1" />
<line x1="325.60" y1="303.72" x2="322.10" y2="303.72" stroke="#222" stroke-width="1" />
<text x="321.40" y="307.15" font-size="10.4" text-anchor="end" font-family='"Liberation Serif", serif' font-weight="bold" fill="#111" stroke="#111" stroke-width="0.55" >3.0</text>
<line x1="325.60" y1="296.34" x2="323.60" y2="296.34" stroke="#222" stroke-width="1" />
<line x1="325.60" y1="288.95" x2="322.10" y2="288.95" stroke="#222" stroke-width="1" />
<text x="321.40" y="292.39" font-size="10.4" text-anchor="end" font-family='"Liberation Serif", serif' font-weight="bold" fill="#111" stroke="#111" stroke-width="0.55" >3.5</text>
<line x1="325.60" y1="281.57" x2="323.60" y2="281.57" stroke="#222" stroke-width="1" />
<line x1="325.60" y1="274.19" x2="322.10" y2="274.19" stroke="#222" stroke-width="1" />
<text x="321.40" y="277.62" font-size="10.4" text-anchor="end" font-family='"Liberation Serif", serif' font-weight="bold" fill="#111" stroke="#111" stroke-width="0.55" >4.0</text>
<line x1="325.60" y1="266.81" x2="323.60" y2="266.81" stroke="#222" stroke-width="1" />
<line x1="325.60" y1="259.43" x2="322.10" y2="259.43" stroke="#222" stroke-width="1" />
<text x="321.40" y="262.86" font-size="10.4" text-anchor="end" font-family='"Liberation Serif", serif' font-weight="bold" fill="#111" stroke="#111" stroke-width="0.55" >4.5</text>
<line x1="325.60" y1="252.05" x2="323.60" y2="252.05" stroke="#222" stroke-width="1" />
<line x1="325.60" y1="244.66" x2="322.10" y2="244.66" stroke="#222" stroke-width="1" />
<text x="321.40" y="248.10" font-size="10.4" text-anchor="end" font-family='"Liberation Serif", serif' font-weight="bold" fill="#111" stroke="#111" stroke-width="0.55" >5.0</text>
<line x1="325.60" y1="237.28" x2="323.60" y2="237.28" stroke="#222" stroke-width="1" />
<line x1="325.60" y1="229.90" x2="322.10" y2="229.90" stroke="#222" stroke-width="1" />
<text x="321.40" y="233.33" font-size="10.4" text-anchor="end" font-family='"Liberation Serif", serif' font-weight="bold" fill="#111" stroke="#111" stroke-width="0.55" >5.5</text>
<line x1="341.55" y1="392.30" x2="341.55" y2="395.80" stroke="#222" stroke-width="1" />
<text x="341.55" y="406.73" font-size="10.4" text-anchor="middle" font-family='"Liberation Serif", serif' font-weight="bold" fill="#111" stroke="#111" stroke-width="0.55" >0</text>
<line x1="356.65" y1="392.30" x2="356.65" y2="394.30" stroke="#222" stroke-width="1" />
<line x1="371.75" y1="392.30" x2="371.75" y2="395.80" stroke="#222" stroke-width="1" />
<text x="371.75" y="406.73" font-size="10.4" text-anchor="middle" font-family='"Liberation Serif", serif' font-weight="bold" fill="#111" stroke="#111" stroke-width="0.55" >100</text>
<line x1="386.85" y1="392.30" x2="386.85" y2="394.30" stroke="#222" stroke-width="1" />
<line x1="401.95" y1="392.30" x2="401.95" y2="395.80" stroke="#222" stroke-width="1" />
<text x="401.95" y="406.73" font-size="10.4" text-anchor="middle" font-family='"Liberation Serif", serif' font-weight="bold" fill="#111" stroke="#111" stroke-width="0.55" >200</text>
<line x1="417.05" y1="392.30" x2="417.05" y2="394.30" stroke="#222" stroke-width="1" />
<line x1="432.15" y1="392.30" x2="432.15" y2="395.80" stroke="#222" stroke-width="1" />
<text x="432.15" y="406.73" font-size="10.4" text-anchor="middle" font-family='"Liberation Serif", serif' font-weight="bold" fill="#111" stroke="#111" stroke-width="0.55" >300</text>
<line x1="447.25" y1="392.30" x2="447.25" y2="394.30" stroke="#222" stroke-width="1" />
<line x1="462.35" y1="392.30" x2="462.35" y2="395.80" stroke="#222" stroke-width="1" />
<text x="462.35" y="406.73" font-size="10.4" text-anchor="middle" font-family='"Liberation Serif", serif' font-weight="bold" fill="#111" stroke="#111" stroke-width="0.55" >400</text>
<line x1="477.45" y1="392.30" x2="477.45" y2="394.30" stroke="#222" stroke-width="1" />
<line x1="492.55" y1="392.30" x2="492.55" y2="395.80" stroke="#222" stroke-width="1" />
<text x="492.55" y="406.73" font-size="10.4" text-anchor="middle" font-family='"Liberation Serif", serif' font-weight="bold" fill="#111" stroke="#111" stroke-width="0.55" >500</text>
<line x1="507.65" y1="392.30" x2="507.65" y2="394.30" stroke="#222" stroke-width="1" />
<line x1="522.75" y1="392.30" x2="522.75" y2="395.80" stroke="#222" stroke-width="1" />
<text x="522.75" y="406.73" font-size="10.4" text-anchor="middle" font-family='"Liberation Serif", serif' font-weight="bold" fill="#111" stroke="#111" stroke-width="0.55" >600</text>
<line x1="537.85" y1="392.30" x2="537.85" y2="394.30" stroke="#222" stroke-width="1" />
<text x="432.30" y="426.66" font-size="10.5" text-anchor="middle" font-family='"Liberation Serif", serif' font-weight="bold" fill="#111" stroke="#111" stroke-width="0.55" >Temperture(°C)</text>
<text transform="translate(296.5,385.9) rotate(-90)" x="0" y="0" font-size="12" letter-spacing="0.5" text-anchor="start" font-family='"Liberation Serif", serif' font-weight="bold" fill="#111" stroke="#111" stroke-width="0.55"><tspan id="w0">Wear rate× 10</tspan><tspan id="w1" dy="-8" dx="-6" font-size="9" letter-spacing="0">-4</tspan><tspan id="w2" dy="8" dx="-1">(mm</tspan><tspan id="w3" dy="-8" font-size="9" letter-spacing="0">3</tspan><tspan id="w4" dy="8" dx="-0.5">N</tspan><tspan id="w5" dy="-8" font-size="9" dx="-0.5" letter-spacing="0">-1</tspan><tspan id="w6" dy="8" dx="0">m</tspan><tspan id="w7" dy="-8" font-size="9" dx="-0.5" letter-spacing="0">-1</tspan><tspan id="w8" dy="8" dx="0.5">)</tspan></text>
<rect x="404.20" y="235.00" width="18.00" height="7.20" fill="#000000" stroke="#333" stroke-width="0.6" />
<text x="424.50" y="241.22" font-size="7.95" text-anchor="start" font-family='"Liberation Serif", serif' font-weight="bold" fill="#111" stroke="#111" stroke-width="0.55" >TC4</text>
<rect x="404.20" y="245.60" width="18.00" height="7.20" fill="#ff0000" stroke="#333" stroke-width="0.6" />
<text x="424.50" y="251.82" font-size="7.95" text-anchor="start" font-family='"Liberation Serif", serif' font-weight="bold" fill="#111" stroke="#111" stroke-width="0.55" >TC4-SAC1</text>
<rect x="404.20" y="256.30" width="18.00" height="7.20" fill="#0000ff" stroke="#333" stroke-width="0.6" />
<text x="424.50" y="262.52" font-size="7.95" text-anchor="start" font-family='"Liberation Serif", serif' font-weight="bold" fill="#111" stroke="#111" stroke-width="0.55" >TC4-SAC2</text>
<rect x="475.80" y="234.90" width="18.00" height="7.20" fill="#008080" stroke="#333" stroke-width="0.6" />
<text x="495.90" y="241.12" font-size="7.95" text-anchor="start" font-family='"Liberation Serif", serif' font-weight="bold" fill="#111" stroke="#111" stroke-width="0.55" >TC4-SAC3</text>
<rect x="475.80" y="245.50" width="18.00" height="7.20" fill="#ff00ff" stroke="#333" stroke-width="0.6" />
<text x="495.90" y="251.72" font-size="7.95" text-anchor="start" font-family='"Liberation Serif", serif' font-weight="bold" fill="#111" stroke="#111" stroke-width="0.55" >TC4-SAC4</text>
<rect x="475.80" y="256.20" width="18.00" height="7.20" fill="#808000" stroke="#333" stroke-width="0.6" />
<text x="495.90" y="262.42" font-size="7.95" text-anchor="start" font-family='"Liberation Serif", serif' font-weight="bold" fill="#111" stroke="#111" stroke-width="0.55" >TC4-SAC5</text>
<rect x="475.80" y="266.90" width="18.00" height="7.20" fill="#000080" stroke="#333" stroke-width="0.6" />
<text x="495.90" y="273.12" font-size="7.95" text-anchor="start" font-family='"Liberation Serif", serif' font-weight="bold" fill="#111" stroke="#111" stroke-width="0.55" >TC4-SAC6</text>
<defs><linearGradient id="gblk" x1="0.6" y1="0" x2="0.3" y2="1"><stop offset="0" stop-color="#4048c4"/><stop offset="0.3" stop-color="#5c62cc"/><stop offset="0.7" stop-color="#a4a8e2"/><stop offset="1" stop-color="#e6e6f6"/></linearGradient><linearGradient id="gball" x1="0" y1="0" x2="0" y2="1"><stop offset="0" stop-color="#383838"/><stop offset="0.4" stop-color="#a4a4a4"/><stop offset="0.75" stop-color="#e2e2e2"/><stop offset="1" stop-color="#fafafa"/></linearGradient><linearGradient id="gbig" x1="0" y1="0" x2="0" y2="1"><stop offset="0" stop-color="#d8d8d8"/><stop offset="1" stop-color="#f6f6f6"/></linearGradient><linearGradient id="gblue2" x1="0" y1="0" x2="0" y2="1"><stop offset="0" stop-color="#5252d2"/><stop offset="1" stop-color="#8a8ae2"/></linearGradient><clipPath id="cpR"><rect x="328.9" y="433.7" width="213.8" height="171.6"/></clipPath><clipPath id="cpL"><rect x="99.5" y="503" width="166.2" height="88.2"/></clipPath></defs>
<ellipse cx="48" cy="503" rx="9.6" ry="5.6" fill="#0a14e6" transform="rotate(-12 48 503)"/>
<text x="46.70" y="519.29" font-size="12.4" text-anchor="middle" font-family='"Liberation Serif", serif' font-weight="bold" fill="#ff00ff" stroke="#ff00ff" stroke-width="0.2" >TC4</text>
<circle cx="48" cy="521.6" r="1.4" fill="#e02020"/>
<text x="48.70" y="533.29" font-size="12.4" text-anchor="middle" font-family='"Liberation Serif", serif' font-weight="bold" fill="#ff00ff" stroke="#ff00ff" stroke-width="0.2" >SAC4</text>
<circle cx="49" cy="539" r="1" fill="#c8c040"/>
<circle cx="48.6" cy="555.6" r="1" fill="#20b0c0"/>
<text x="15.60" y="565.36" font-size="12.6" text-anchor="start" font-family='"Liberation Serif", serif' font-weight="bold" fill="#ff00ff" stroke="#ff00ff" stroke-width="0.2" >Compounds</text>
<text x="15.6" y="582.00" font-size="9.7" font-family='"Liberation Serif", serif' font-weight="bold" fill="#ff00ff" stroke="#ff00ff" stroke-width="0.2">(Cu<tspan font-size="6.5" dy="1">6</tspan><tspan dy="-1">Sn</tspan><tspan font-size="6.5" dy="1">5</tspan><tspan dy="-1">, Cu</tspan><tspan font-size="6.5" dy="1">3</tspan><tspan dy="-1">Sn,</tspan></text>
<text x="15.6" y="595.40" font-size="9.7" font-family='"Liberation Serif", serif' font-weight="bold" fill="#ff00ff" stroke="#ff00ff" stroke-width="0.2">Ag<tspan font-size="6.5" dy="1">3</tspan><tspan dy="-1">Sn,CuO, TiO</tspan><tspan font-size="6.5" dy="1">2</tspan><tspan dy="-1">)</tspan></text>
<text x="83.60" y="484.62" font-size="12.8" text-anchor="middle" font-family='"Liberation Serif", serif' font-weight="bold" fill="#ff00ff" stroke="#ff00ff" stroke-width="0.2" >Microporous channel</text>
<rect x="99.50" y="507.80" width="166.20" height="83.40" fill="url(#gblk)" stroke="none" stroke-width="1" />
<ellipse cx="106.3" cy="529.3" rx="4.9" ry="3.2" fill="#0a14e6" transform="rotate(-12 106.3 529.3)"/>
<ellipse cx="124.8" cy="536.7" rx="4.9" ry="3.2" fill="#0a14e6" transform="rotate(-12 124.8 536.7)"/>
<ellipse cx="136.4" cy="524.6" rx="4.9" ry="3.2" fill="#0a14e6" transform="rotate(-12 136.4 524.6)"/>
<ellipse cx="153.4" cy="532.8" rx="4.9" ry="3.2" fill="#0a14e6" transform="rotate(-12 153.4 532.8)"/>
<ellipse cx="167.3" cy="540.5" rx="4.9" ry="3.2" fill="#0a14e6" transform="rotate(-12 167.3 540.5)"/>
<ellipse cx="184.8" cy="531" rx="4.9" ry="3.2" fill="#0a14e6" transform="rotate(-12 184.8 531)"/>
<ellipse cx="211" cy="535.1" rx="4.9" ry="3.2" fill="#0a14e6" transform="rotate(-12 211 535.1)"/>
<ellipse cx="228.5" cy="526.8" rx="4.9" ry="3.2" fill="#0a14e6" transform="rotate(-12 228.5 526.8)"/>
<ellipse cx="254.2" cy="532.2" rx="4.9" ry="3.2" fill="#0a14e6" transform="rotate(-12 254.2 532.2)"/>
<ellipse cx="109.5" cy="550.7" rx="4.9" ry="3.2" fill="#0a14e6" transform="rotate(-12 109.5 550.7)"/>
<ellipse cx="136.8" cy="549.5" rx="4.9" ry="3.2" fill="#0a14e6" transform="rotate(-12 136.8 549.5)"/>
<ellipse cx="160.1" cy="555" rx="4.9" ry="3.2" fill="#0a14e6" transform="rotate(-12 160.1 555)"/>
<ellipse cx="188.1" cy="548" rx="4.9" ry="3.2" fill="#0a14e6" transform="rotate(-12 188.1 548)"/>
<ellipse cx="210.9" cy="552.3" rx="4.9" ry="3.2" fill="#0a14e6" transform="rotate(-12 210.9 552.3)"/>
<ellipse cx="232.7" cy="545.2" rx="4.9" ry="3.2" fill="#0a14e6" transform="rotate(-12 232.7 545.2)"/>
<ellipse cx="254.2" cy="554" rx="4.9" ry="3.2" fill="#0a14e6" transform="rotate(-12 254.2 554)"/>
<ellipse cx="120.5" cy="567.7" rx="4.9" ry="3.2" fill="#0a14e6" transform="rotate(-12 120.5 567.7)"/>
<ellipse cx="140.4" cy="565.2" rx="4.9" ry="3.2" fill="#0a14e6" transform="rotate(-12 140.4 565.2)"/>
<ellipse cx="165.5" cy="571.3" rx="4.9" ry="3.2" fill="#0a14e6" transform="rotate(-12 165.5 571.3)"/>
<ellipse cx="188.1" cy="564.4" rx="4.9" ry="3.2" fill="#0a14e6" transform="rotate(-12 188.1 564.4)"/>
<ellipse cx="207.1" cy="572.9" rx="4.9" ry="3.2" fill="#0a14e6" transform="rotate(-12 207.1 572.9)"/>
<ellipse cx="232.7" cy="565.1" rx="4.9" ry="3.2" fill="#0a14e6" transform="rotate(-12 232.7 565.1)"/>
<ellipse cx="254.2" cy="578.1" rx="4.9" ry="3.2" fill="#0a14e6" transform="rotate(-12 254.2 578.1)"/>
<ellipse cx="111" cy="581.2" rx="4.9" ry="3.2" fill="#0a14e6" transform="rotate(-12 111 581.2)"/>
<ellipse cx="140.4" cy="582.8" rx="4.9" ry="3.2" fill="#0a14e6" transform="rotate(-12 140.4 582.8)"/>
<ellipse cx="180.5" cy="582.8" rx="4.9" ry="3.2" fill="#0a14e6" transform="rotate(-12 180.5 582.8)"/>
<ellipse cx="229.4" cy="585" rx="4.9" ry="3.2" fill="#0a14e6" transform="rotate(-12 229.4 585)"/>
<ellipse cx="109.5" cy="513" rx="4.9" ry="3.2" fill="#0a14e6" transform="rotate(-12 109.5 513)"/>
<ellipse cx="160" cy="512.2" rx="4.9" ry="3.2" fill="#0a14e6" transform="rotate(-12 160 512.2)"/>
<ellipse cx="205" cy="512.6" rx="4.9" ry="3.2" fill="#0a14e6" transform="rotate(-12 205 512.6)"/>
<ellipse cx="236.6" cy="512.2" rx="4.9" ry="3.2" fill="#0a14e6" transform="rotate(-12 236.6 512.2)"/>
<g clip-path="url(#cpL)"><path d="M103.50,510.17 L104.30,509.18 L105.10,509.06 L105.90,509.84 L106.70,511.43 L107.50,513.66 L108.30,516.30 L109.10,519.07 L109.90,521.70 L110.70,523.89 L111.50,525.43 L112.30,526.16 L113.10,525.99 L113.90,524.94 L114.70,523.14 L115.50,520.75 L116.30,518.04 L117.10,515.28 L117.90,512.76 L118.70,510.75 L119.50,509.45 L120.30,509.00 L121.10,509.45 L121.90,510.75 L122.70,512.76 L123.50,515.28 L124.30,518.04 L125.10,520.75 L125.90,523.14 L126.70,524.94 L127.50,525.99 L128.30,526.16 L129.10,525.43 L129.90,523.89 L130.70,521.70 L131.50,519.07 L132.30,516.30 L133.10,513.66 L133.90,511.43 L134.70,509.84 L135.50,509.06 L136.30,509.18 L137.10,510.17 L137.90,511.93 L138.70,514.29 L139.50,516.99 L140.30,519.76 L141.10,522.30 L141.90,524.35 L142.70,525.69 L143.50,526.20 L144.30,525.81 L145.10,524.56 L145.90,522.58 L146.70,520.09 L147.50,517.34 L148.30,514.61 L149.10,512.20 L149.90,510.35 L150.70,509.25 L151.50,509.03 L152.30,509.70 L153.10,511.19 L153.90,513.35 L154.70,515.95 L155.50,518.73 L156.30,521.39 L157.10,523.65 L157.90,525.28 L158.70,526.11 L159.50,526.06 L160.30,525.12 L161.10,523.40 L161.90,521.07 L162.70,518.38 L163.50,515.61 L164.30,513.05 L165.10,510.96 L165.90,509.57 L166.70,509.01 L167.50,509.34 L168.30,510.54 L169.10,512.47 L169.90,514.94 L170.70,517.69 L171.50,520.42 L172.30,522.86 L173.10,524.76 L173.90,525.90 L174.70,526.18 L175.50,525.57 L176.30,524.13 L177.10,522.00 L177.90,519.42 L178.70,516.64 L179.50,513.97 L180.30,511.67 L181.10,510.00 L181.90,509.11 L182.70,509.11 L183.50,510.00 L184.30,511.67 L185.10,513.97 L185.90,516.64 L186.70,519.42 L187.50,522.00 L188.30,524.13 L189.10,525.57 L189.90,526.18 L190.70,525.90 L191.50,524.76 L192.30,522.86 L193.10,520.42 L193.90,517.69 L194.70,514.94 L195.50,512.47 L196.30,510.54 L197.10,509.34 L197.90,509.01 L198.70,509.57 L199.50,510.96 L200.30,513.05 L201.10,515.61 L201.90,518.38 L202.70,521.07 L203.50,523.40 L204.30,525.12 L205.10,526.06 L205.90,526.11 L206.70,525.28 L207.50,523.65 L208.30,521.39 L209.10,518.73 L209.90,515.95 L210.70,513.35 L211.50,511.19 L212.30,509.70 L213.10,509.03 L213.90,509.25 L214.70,510.35 L215.50,512.20 L216.30,514.61 L217.10,517.34 L217.90,520.09 L218.70,522.58 L219.50,524.56 L220.30,525.81 L221.10,526.20 L221.90,525.69 L222.70,524.35 L223.50,522.30 L224.30,519.76 L225.10,516.99 L225.90,514.29 L226.70,511.93 L227.50,510.17 L228.30,509.18 L229.10,509.06 L229.90,509.84 L230.70,511.43 L231.50,513.66 L232.30,516.30 L233.10,519.07 L233.90,521.70 L234.70,523.89 L235.50,525.43 L236.30,526.16 L237.10,525.99 L237.90,524.94 L238.70,523.14 L239.50,520.75 L240.30,518.04 L241.10,515.28 L241.90,512.76 L242.70,510.75 L243.50,509.45 L244.30,509.00 L245.10,509.45 L245.90,510.75 L246.70,512.76 L247.50,515.28 L248.30,518.04 L249.10,520.75 L249.90,523.14 L250.70,524.94 L251.50,525.99 L252.30,526.16 L253.10,525.43 L253.90,523.89 L254.70,521.70 L255.50,519.07 L256.30,516.30 L257.10,513.66 L257.90,511.43 L258.70,509.84" fill="none" stroke="#4a2018" stroke-width="2.2"/><path d="M103.50,510.17 L104.30,509.18 L105.10,509.06 L105.90,509.84 L106.70,511.43 L107.50,513.66 L108.30,516.30 L109.10,519.07 L109.90,521.70 L110.70,523.89 L111.50,525.43 L112.30,526.16 L113.10,525.99 L113.90,524.94 L114.70,523.14 L115.50,520.75 L116.30,518.04 L117.10,515.28 L117.90,512.76 L118.70,510.75 L119.50,509.45 L120.30,509.00 L121.10,509.45 L121.90,510.75 L122.70,512.76 L123.50,515.28 L124.30,518.04 L125.10,520.75 L125.90,523.14 L126.70,524.94 L127.50,525.99 L128.30,526.16 L129.10,525.43 L129.90,523.89 L130.70,521.70 L131.50,519.07 L132.30,516.30 L133.10,513.66 L133.90,511.43 L134.70,509.84 L135.50,509.06 L136.30,509.18 L137.10,510.17 L137.90,511.93 L138.70,514.29 L139.50,516.99 L140.30,519.76 L141.10,522.30 L141.90,524.35 L142.70,525.69 L143.50,526.20 L144.30,525.81 L145.10,524.56 L145.90,522.58 L146.70,520.09 L147.50,517.34 L148.30,514.61 L149.10,512.20 L149.90,510.35 L150.70,509.25 L151.50,509.03 L152.30,509.70 L153.10,511.19 L153.90,513.35 L154.70,515.95 L155.50,518.73 L156.30,521.39 L157.10,523.65 L157.90,525.28 L158.70,526.11 L159.50,526.06 L160.30,525.12 L161.10,523.40 L161.90,521.07 L162.70,518.38 L163.50,515.61 L164.30,513.05 L165.10,510.96 L165.90,509.57 L166.70,509.01 L167.50,509.34 L168.30,510.54 L169.10,512.47 L169.90,514.94 L170.70,517.69 L171.50,520.42 L172.30,522.86 L173.10,524.76 L173.90,525.90 L174.70,526.18 L175.50,525.57 L176.30,524.13 L177.10,522.00 L177.90,519.42 L178.70,516.64 L179.50,513.97 L180.30,511.67 L181.10,510.00 L181.90,509.11 L182.70,509.11 L183.50,510.00 L184.30,511.67 L185.10,513.97 L185.90,516.64 L186.70,519.42 L187.50,522.00 L188.30,524.13 L189.10,525.57 L189.90,526.18 L190.70,525.90 L191.50,524.76 L192.30,522.86 L193.10,520.42 L193.90,517.69 L194.70,514.94 L195.50,512.47 L196.30,510.54 L197.10,509.34 L197.90,509.01 L198.70,509.57 L199.50,510.96 L200.30,513.05 L201.10,515.61 L201.90,518.38 L202.70,521.07 L203.50,523.40 L204.30,525.12 L205.10,526.06 L205.90,526.11 L206.70,525.28 L207.50,523.65 L208.30,521.39 L209.10,518.73 L209.90,515.95 L210.70,513.35 L211.50,511.19 L212.30,509.70 L213.10,509.03 L213.90,509.25 L214.70,510.35 L215.50,512.20 L216.30,514.61 L217.10,517.34 L217.90,520.09 L218.70,522.58 L219.50,524.56 L220.30,525.81 L221.10,526.20 L221.90,525.69 L222.70,524.35 L223.50,522.30 L224.30,519.76 L225.10,516.99 L225.90,514.29 L226.70,511.93 L227.50,510.17 L228.30,509.18 L229.10,509.06 L229.90,509.84 L230.70,511.43 L231.50,513.66 L232.30,516.30 L233.10,519.07 L233.90,521.70 L234.70,523.89 L235.50,525.43 L236.30,526.16 L237.10,525.99 L237.90,524.94 L238.70,523.14 L239.50,520.75 L240.30,518.04 L241.10,515.28 L241.90,512.76 L242.70,510.75 L243.50,509.45 L244.30,509.00 L245.10,509.45 L245.90,510.75 L246.70,512.76 L247.50,515.28 L248.30,518.04 L249.10,520.75 L249.90,523.14 L250.70,524.94 L251.50,525.99 L252.30,526.16 L253.10,525.43 L253.90,523.89 L254.70,521.70 L255.50,519.07 L256.30,516.30 L257.10,513.66 L257.90,511.43 L258.70,509.84" fill="none" stroke="#c83020" stroke-width="1.2" stroke-dasharray="1.2,1.5"/></g>
<text x="8.4" y="548.09" font-size="12.4" font-family='"Liberation Serif", serif' font-weight="bold" fill="#ff00ff" stroke="#ff00ff" stroke-width="0.2">Al<tspan font-size="9.5" dy="1">2</tspan><tspan dy="-1">O</tspan><tspan font-size="9.5" dy="1">3</tspan><tspan dy="-1"> nanoparticle</tspan></text>
<path d="M99.5,508.6 L99.50,503.55 L101.00,503.94 L102.50,504.18 L104.00,504.22 L105.50,504.04 L107.00,503.72 L108.50,503.36 L110.00,503.08 L111.50,502.98 L113.00,503.12 L114.50,503.50 L116.00,504.04 L117.50,504.63 L119.00,505.13 L120.50,505.45 L122.00,505.50 L123.50,505.30 L125.00,504.91 L126.50,504.43 L128.00,504.00 L129.50,503.72 L131.00,503.65 L132.50,503.80 L134.00,504.09 L135.50,504.43 L137.00,504.69 L138.50,504.77 L140.00,504.62 L141.50,504.24 L143.00,503.72 L144.50,503.16 L146.00,502.70 L147.50,502.44 L149.00,502.44 L150.50,502.71 L152.00,503.15 L153.50,503.68 L155.00,504.15 L156.50,504.46 L158.00,504.55 L159.50,504.42 L161.00,504.13 L162.50,503.80 L164.00,503.55 L165.50,503.47 L167.00,503.61 L168.50,503.96 L170.00,504.46 L171.50,504.97 L173.00,505.38 L174.50,505.58 L176.00,505.51 L177.50,505.19 L179.00,504.69 L180.50,504.13 L182.00,503.63 L183.50,503.31 L185.00,503.21 L186.50,503.34 L188.00,503.63 L189.50,503.97 L191.00,504.24 L192.50,504.34 L194.00,504.22 L195.50,503.90 L197.00,503.45 L198.50,502.99 L200.00,502.63 L201.50,502.49 L203.00,502.62 L204.50,502.99 L206.00,503.53 L207.50,504.12 L209.00,504.63 L210.50,504.95 L212.00,505.04 L213.50,504.88 L215.00,504.57 L216.50,504.20 L218.00,503.91 L219.50,503.78 L221.00,503.86 L222.50,504.14 L224.00,504.55 L225.50,504.96 L227.00,505.26 L228.50,505.35 L230.00,505.18 L231.50,504.77 L233.00,504.21 L234.50,503.61 L236.00,503.10 L237.50,502.80 L239.00,502.74 L240.50,502.93 L242.00,503.28 L243.50,503.69 L245.00,504.03 L246.50,504.19 L248.00,504.15 L249.50,503.91 L251.00,503.54 L252.50,503.17 L254.00,502.92 L255.50,502.87 L257.00,503.07 L258.50,503.50 L260.00,504.07 L261.50,504.66 L263.00,505.14 L264.50,505.41 L265.7,508.6 Z" fill="#ff0a0a"/>
<path d="M150.6,480.8 L208.6,480.8 A29,21.8 0 0 1 150.6,480.8 Z" fill="url(#gball)"/>
<text x="179" y="493.80" font-size="12.4" text-anchor="middle" font-family='"Liberation Serif", serif' font-weight="bold" fill="#ff00ff" stroke="#ff00ff" stroke-width="0.2">Si<tspan font-size="9" dy="1">3</tspan><tspan dy="-1">N</tspan><tspan font-size="8" dy="1">4</tspan><tspan dy="-1"> ball</tspan></text>
<line x1="161.80" y1="446.70" x2="161.80" y2="474.40" stroke="#ff00ff" stroke-width="1.6" />
<path d="M158.50,473.40 L165.10,473.40 L161.80,480.60 Z" fill="#ff00ff"/>
<line x1="179.20" y1="446.70" x2="179.20" y2="474.40" stroke="#ff00ff" stroke-width="1.6" />
<path d="M175.90,473.40 L182.50,473.40 L179.20,480.60 Z" fill="#ff00ff"/>
<line x1="197.40" y1="446.70" x2="197.40" y2="474.40" stroke="#ff00ff" stroke-width="1.6" />
<path d="M194.10,473.40 L200.70,473.40 L197.40,480.60 Z" fill="#ff00ff"/>
<text x="178.70" y="444.19" font-size="12.7" text-anchor="middle" font-family='"Liberation Serif", serif' font-weight="bold" fill="#ff00ff" stroke="#ff00ff" stroke-width="0.2" >Applied load</text>
<path d="M100.2,486.7 L128.5,512.2" stroke="#ff00ff" stroke-width="1.3"/>
<path d="M133,516.3 L124.5,513.2 L129.6,507.6 Z" fill="#ff00ff"/>
<text x="260.70" y="473.79" font-size="12.7" text-anchor="middle" font-family='"Liberation Serif", serif' font-weight="bold" fill="#ff00ff" stroke="#ff00ff" stroke-width="0.2" >Sliding direction</text>
<line x1="221.60" y1="476.50" x2="279.00" y2="476.50" stroke="#ff00ff" stroke-width="1.4" />
<path d="M285.5,476.5 L278,473.6 L278,479.4 Z" fill="#ff00ff"/>
<text x="266.60" y="501.49" font-size="12.7" text-anchor="middle" font-family='"Liberation Serif", serif' font-weight="bold" fill="#ff00ff" stroke="#ff00ff" stroke-width="0.2" >Lubricating film</text>
<path d="M158.3,533.3 L158.3,497.9 L204.9,497.9 L204.9,533.3 Z" fill="none" stroke="#f0f020" stroke-width="1.9" stroke-dasharray="3.2,2.2"/>
<path d="M204.9,497.9 L295.4,429.7" fill="none" stroke="#f0f020" stroke-width="1.8" stroke-dasharray="3.2,2.2"/>
<path d="M204.9,533.3 L312.3,604.7" fill="none" stroke="#f0f020" stroke-width="1.8" stroke-dasharray="3.2,2.2"/>
<g clip-path="url(#cpR)">
<ellipse cx="424.5" cy="397.3" rx="110" ry="69.7" fill="url(#gbig)"/>
<rect x="328.90" y="481.60" width="213.80" height="123.70" fill="url(#gblue2)" stroke="none" stroke-width="1" />
<path d="M328.90,463.40 C332.75,462.77 344.40,460.92 352.00,459.60 C359.60,458.28 367.83,455.52 374.50,455.50 C381.17,455.48 386.42,457.70 392.00,459.50 C397.58,461.30 403.33,465.02 408.00,466.30 C412.67,467.58 415.50,467.38 420.00,467.20 C424.50,467.02 427.88,466.07 435.00,465.20 C442.12,464.33 452.70,462.70 462.70,462.00 C472.70,461.30 486.28,461.83 495.00,461.00 C503.72,460.17 508.38,458.27 515.00,457.00 C521.62,455.73 530.03,453.73 534.70,453.40 C539.37,453.07 541.62,454.73 543.00,455.00 L542.7,482.2 L328.9,482.2 Z" fill="#ff0a0a"/>
<ellipse cx="333" cy="502" rx="19" ry="14.5" fill="#0a0ae8"/>
<ellipse cx="451.4" cy="596" rx="23" ry="14" fill="#0a0ae8"/>
<ellipse cx="551" cy="505" rx="17" ry="11" fill="#0a0ae8"/>
<path d="M318.00,564.29 L318.50,565.00 L319.00,565.68 L319.50,566.31 L320.00,566.90 L320.50,567.44 L321.00,567.95 L321.50,568.41 L322.00,568.82 L322.50,569.19 L323.00,569.52 L323.50,569.79 L324.00,570.03 L324.50,570.21 L325.00,570.35 L325.50,570.45 L326.00,570.49 L326.50,570.49 L327.00,570.45 L327.50,570.35 L328.00,570.21 L328.50,570.03 L329.00,569.79 L329.50,569.52 L330.00,569.19 L330.50,568.82 L331.00,568.41 L331.50,567.95 L332.00,567.44 L332.50,566.90 L333.00,566.31 L333.50,565.68 L334.00,565.00 L334.50,564.29 L335.00,563.53 L335.50,562.74 L336.00,561.91 L336.50,561.04 L337.00,560.14 L337.50,559.20 L338.00,558.22 L338.50,557.21 L339.00,556.17 L339.50,555.10 L340.00,554.00 L340.50,552.86 L341.00,551.71 L341.50,550.52 L342.00,549.31 L342.50,548.07 L343.00,546.82 L343.50,545.54 L344.00,544.24 L344.50,542.92 L345.00,541.58 L345.50,540.23 L346.00,538.86 L346.50,537.48 L347.00,536.09 L347.50,534.68 L348.00,533.27 L348.50,531.85 L349.00,530.42 L349.50,528.99 L350.00,527.55 L350.50,526.11 L351.00,524.67 L351.50,523.23 L352.00,521.79 L352.50,520.35 L353.00,518.92 L353.50,517.49 L354.00,516.06 L354.50,514.65 L355.00,513.24 L355.50,511.85 L356.00,510.46 L356.50,509.09 L357.00,507.72 L357.50,506.38 L358.00,505.05 L358.50,503.73 L359.00,502.43 L359.50,501.15 L360.00,499.89 L360.50,498.65 L361.00,497.42 L361.50,496.22 L362.00,495.04 L362.50,493.89 L363.00,492.76 L363.50,491.65 L364.00,490.56 L364.50,489.50 L365.00,490.56 L365.50,491.65 L366.00,492.76 L366.50,493.89 L367.00,495.04 L367.50,496.22 L368.00,497.42 L368.50,498.65 L369.00,499.89 L369.50,501.15 L370.00,502.43 L370.50,503.73 L371.00,505.05 L371.50,506.38 L372.00,507.72 L372.50,509.09 L373.00,510.46 L373.50,511.85 L374.00,513.24 L374.50,514.65 L375.00,516.06 L375.50,517.49 L376.00,518.92 L376.50,520.35 L377.00,521.79 L377.50,523.23 L378.00,524.67 L378.50,526.11 L379.00,527.55 L379.50,528.99 L380.00,530.42 L380.50,531.85 L381.00,533.27 L381.50,534.68 L382.00,536.09 L382.50,537.48 L383.00,538.86 L383.50,540.23 L384.00,541.58 L384.50,542.92 L385.00,544.24 L385.50,545.54 L386.00,546.82 L386.50,548.07 L387.00,549.31 L387.50,550.52 L388.00,551.71 L388.50,552.86 L389.00,554.00 L389.50,555.10 L390.00,556.17 L390.50,557.21 L391.00,558.22 L391.50,559.20 L392.00,560.14 L392.50,561.04 L393.00,561.91 L393.50,562.74 L394.00,563.53 L394.50,564.29 L395.00,565.00 L395.50,565.68 L396.00,566.31 L396.50,566.90 L397.00,567.44 L397.50,567.95 L398.00,568.41 L398.50,568.82 L399.00,569.19 L399.50,569.52 L400.00,569.79 L400.50,570.03 L401.00,570.21 L401.50,570.35 L402.00,570.45 L402.50,570.49 L403.00,570.49 L403.50,570.45 L404.00,570.35 L404.50,570.21 L405.00,570.03 L405.50,569.79 L406.00,569.52 L406.50,569.19 L407.00,568.82 L407.50,568.41 L408.00,567.95 L408.50,567.44 L409.00,566.90 L409.50,566.31 L410.00,565.68 L410.50,565.00 L411.00,564.29 L411.50,563.53 L412.00,562.74 L412.50,561.91 L413.00,561.04 L413.50,560.14 L414.00,559.20 L414.50,558.22 L415.00,557.21 L415.50,556.17 L416.00,555.10 L416.50,554.00 L417.00,552.86 L417.50,551.71 L418.00,550.52 L418.50,549.31 L419.00,548.07 L419.50,546.82 L420.00,545.54 L420.50,544.24 L421.00,542.92 L421.50,541.58 L422.00,540.23 L422.50,538.86 L423.00,537.48 L423.50,536.09 L424.00,534.68 L424.50,533.27 L425.00,531.85 L425.50,530.42 L426.00,528.99 L426.50,527.55 L427.00,526.11 L427.50,524.67 L428.00,523.23 L428.50,521.79 L429.00,520.35 L429.50,518.92 L430.00,517.49 L430.50,516.06 L431.00,514.65 L431.50,513.24 L432.00,511.85 L432.50,510.46 L433.00,509.09 L433.50,507.72 L434.00,506.38 L434.50,505.05 L435.00,503.73 L435.50,502.43 L436.00,501.15 L436.50,499.89 L437.00,498.65 L437.50,497.42 L438.00,496.22 L438.50,495.04 L439.00,493.89 L439.50,492.76 L440.00,491.65 L440.50,490.56 L441.00,489.50 L441.50,490.56 L442.00,491.65 L442.50,492.76 L443.00,493.89 L443.50,495.04 L444.00,496.22 L444.50,497.42 L445.00,498.65 L445.50,499.89 L446.00,501.15 L446.50,502.43 L447.00,503.73 L447.50,505.05 L448.00,506.38 L448.50,507.72 L449.00,509.09 L449.50,510.46 L450.00,511.85 L450.50,513.24 L451.00,514.65 L451.50,516.06 L452.00,517.49 L452.50,518.92 L453.00,520.35 L453.50,521.79 L454.00,523.23 L454.50,524.67 L455.00,526.11 L455.50,527.55 L456.00,528.99 L456.50,530.42 L457.00,531.85 L457.50,533.27 L458.00,534.68 L458.50,536.09 L459.00,537.48 L459.50,538.86 L460.00,540.23 L460.50,541.58 L461.00,542.92 L461.50,544.24 L462.00,545.54 L462.50,546.82 L463.00,548.07 L463.50,549.31 L464.00,550.52 L464.50,551.71 L465.00,552.86 L465.50,554.00 L466.00,555.10 L466.50,556.17 L467.00,557.21 L467.50,558.22 L468.00,559.20 L468.50,560.14 L469.00,561.04 L469.50,561.91 L470.00,562.74 L470.50,563.53 L471.00,564.29 L471.50,565.00 L472.00,565.68 L472.50,566.31 L473.00,566.90 L473.50,567.44 L474.00,567.95 L474.50,568.41 L475.00,568.82 L475.50,569.19 L476.00,569.52 L476.50,569.79 L477.00,570.03 L477.50,570.21 L478.00,570.35 L478.50,570.45 L479.00,570.49 L479.50,570.49 L480.00,570.45 L480.50,570.35 L481.00,570.21 L481.50,570.03 L482.00,569.79 L482.50,569.52 L483.00,569.19 L483.50,568.82 L484.00,568.41 L484.50,567.95 L485.00,567.44 L485.50,566.90 L486.00,566.31 L486.50,565.68 L487.00,565.00 L487.50,564.29 L488.00,563.53 L488.50,562.74 L489.00,561.91 L489.50,561.04 L490.00,560.14 L490.50,559.20 L491.00,558.22 L491.50,557.21 L492.00,556.17 L492.50,555.10 L493.00,554.00 L493.50,552.86 L494.00,551.71 L494.50,550.52 L495.00,549.31 L495.50,548.07 L496.00,546.82 L496.50,545.54 L497.00,544.24 L497.50,542.92 L498.00,541.58 L498.50,540.23 L499.00,538.86 L499.50,537.48 L500.00,536.09 L500.50,534.68 L501.00,533.27 L501.50,531.85 L502.00,530.42 L502.50,528.99 L503.00,527.55 L503.50,526.11 L504.00,524.67 L504.50,523.23 L505.00,521.79 L505.50,520.35 L506.00,518.92 L506.50,517.49 L507.00,516.06 L507.50,514.65 L508.00,513.24 L508.50,511.85 L509.00,510.46 L509.50,509.09 L510.00,507.72 L510.50,506.38 L511.00,505.05 L511.50,503.73 L512.00,502.43 L512.50,501.15 L513.00,499.89 L513.50,498.65 L514.00,497.42 L514.50,496.22 L515.00,495.04 L515.50,493.89 L516.00,492.76 L516.50,491.65 L517.00,490.56 L517.50,489.50 L518.00,490.56 L518.50,491.65 L519.00,492.76 L519.50,493.89 L520.00,495.04 L520.50,496.22 L521.00,497.42 L521.50,498.65 L522.00,499.89 L522.50,501.15 L523.00,502.43 L523.50,503.73 L524.00,505.05 L524.50,506.38 L525.00,507.72 L525.50,509.09 L526.00,510.46 L526.50,511.85 L527.00,513.24 L527.50,514.65 L528.00,516.06 L528.50,517.49 L529.00,518.92 L529.50,520.35 L530.00,521.79 L530.50,523.23 L531.00,524.67 L531.50,526.11 L532.00,527.55 L532.50,528.99 L533.00,530.42 L533.50,531.85 L534.00,533.27 L534.50,534.68 L535.00,536.09 L535.50,537.48 L536.00,538.86 L536.50,540.23 L537.00,541.58 L537.50,542.92 L538.00,544.24 L538.50,545.54 L539.00,546.82 L539.50,548.07 L540.00,549.31 L540.50,550.52 L541.00,551.71 L541.50,552.86 L542.00,554.00 L542.50,555.10 L543.00,556.17 L543.50,557.21 L544.00,558.22 L544.50,559.20 L545.00,560.14 L545.50,561.04 L546.00,561.91 L546.50,562.74 L547.00,563.53 L547.50,564.29 L548.00,565.00 L548.50,565.68 L549.00,566.31 L549.50,566.90 L550.00,567.44 L550.50,567.95 L551.00,568.41 L551.50,568.82 L552.00,569.19" fill="none" stroke="#000" stroke-width="12.6" stroke-linejoin="round"/>
<ellipse cx="318.60" cy="565.14" rx="4.7" ry="3.9" fill="#ff1a1a"/>
<ellipse cx="326.80" cy="570.47" rx="4.7" ry="3.9" fill="#ff1a1a"/>
<ellipse cx="334.60" cy="564.14" rx="2.9" ry="2.4" fill="#f8f020"/>
<ellipse cx="339.40" cy="555.32" rx="4.7" ry="3.9" fill="#ff1a1a"/>
<ellipse cx="343.40" cy="545.79" rx="4.6" ry="3.8" fill="#ff1a1a"/><ellipse cx="343.40" cy="545.79" rx="2.4" ry="1.9" fill="#f8f020"/>
<ellipse cx="347.00" cy="536.09" rx="4.7" ry="3.9" fill="#ff1a1a"/>
<ellipse cx="350.40" cy="526.40" rx="4.7" ry="3.9" fill="#ff1a1a"/>
<ellipse cx="353.80" cy="516.63" rx="2.9" ry="2.4" fill="#f8f020"/>
<ellipse cx="357.20" cy="507.18" rx="4.7" ry="3.9" fill="#ff1a1a"/>
<ellipse cx="360.80" cy="497.91" rx="4.7" ry="3.9" fill="#ff1a1a"/>
<ellipse cx="365.00" cy="490.56" rx="4.7" ry="3.9" fill="#ff1a1a"/>
<ellipse cx="369.00" cy="499.89" rx="4.7" ry="3.9" fill="#ff1a1a"/>
<ellipse cx="372.80" cy="509.91" rx="2.9" ry="2.4" fill="#f8f020"/>
<ellipse cx="376.20" cy="519.49" rx="4.7" ry="3.9" fill="#ff1a1a"/>
<ellipse cx="379.40" cy="528.70" rx="4.6" ry="3.8" fill="#ff1a1a"/><ellipse cx="379.40" cy="528.70" rx="2.4" ry="1.9" fill="#f8f020"/>
<ellipse cx="382.80" cy="538.31" rx="4.7" ry="3.9" fill="#ff1a1a"/>
<ellipse cx="386.40" cy="547.82" rx="4.7" ry="3.9" fill="#ff1a1a"/>
<ellipse cx="390.60" cy="557.42" rx="2.9" ry="2.4" fill="#f8f020"/>
<ellipse cx="395.80" cy="566.06" rx="4.7" ry="3.9" fill="#ff1a1a"/>
<ellipse cx="404.40" cy="570.25" rx="4.7" ry="3.9" fill="#ff1a1a"/>
<ellipse cx="411.60" cy="563.38" rx="4.7" ry="3.9" fill="#ff1a1a"/>
<ellipse cx="416.40" cy="554.22" rx="4.7" ry="3.9" fill="#ff1a1a"/>
<ellipse cx="420.20" cy="545.02" rx="2.9" ry="2.4" fill="#f8f020"/>
<ellipse cx="423.80" cy="535.25" rx="4.7" ry="3.9" fill="#ff1a1a"/>
<ellipse cx="427.20" cy="525.53" rx="4.6" ry="3.8" fill="#ff1a1a"/><ellipse cx="427.20" cy="525.53" rx="2.4" ry="1.9" fill="#f8f020"/>
<ellipse cx="430.60" cy="515.78" rx="4.7" ry="3.9" fill="#ff1a1a"/>
<ellipse cx="434.00" cy="506.38" rx="4.7" ry="3.9" fill="#ff1a1a"/>
<ellipse cx="437.80" cy="496.70" rx="2.9" ry="2.4" fill="#f8f020"/>
<ellipse cx="441.80" cy="491.21" rx="4.7" ry="3.9" fill="#ff1a1a"/>
<ellipse cx="445.80" cy="500.64" rx="4.7" ry="3.9" fill="#ff1a1a"/>
<ellipse cx="449.40" cy="510.18" rx="4.7" ry="3.9" fill="#ff1a1a"/>
<ellipse cx="452.80" cy="519.78" rx="4.7" ry="3.9" fill="#ff1a1a"/>
<ellipse cx="456.20" cy="529.56" rx="2.9" ry="2.4" fill="#f8f020"/>
<ellipse cx="459.60" cy="539.14" rx="4.7" ry="3.9" fill="#ff1a1a"/>
<ellipse cx="463.20" cy="548.57" rx="4.6" ry="3.8" fill="#ff1a1a"/><ellipse cx="463.20" cy="548.57" rx="2.4" ry="1.9" fill="#f8f020"/>
<ellipse cx="467.40" cy="558.02" rx="4.7" ry="3.9" fill="#ff1a1a"/>
<ellipse cx="472.80" cy="566.67" rx="4.7" ry="3.9" fill="#ff1a1a"/>
<ellipse cx="481.60" cy="569.98" rx="2.9" ry="2.4" fill="#f8f020"/>
<ellipse cx="488.60" cy="562.58" rx="4.7" ry="3.9" fill="#ff1a1a"/>
<ellipse cx="493.20" cy="553.55" rx="4.7" ry="3.9" fill="#ff1a1a"/>
<ellipse cx="497.00" cy="544.24" rx="4.7" ry="3.9" fill="#ff1a1a"/>
<ellipse cx="500.60" cy="534.40" rx="4.7" ry="3.9" fill="#ff1a1a"/>
<ellipse cx="504.00" cy="524.67" rx="2.9" ry="2.4" fill="#f8f020"/>
<ellipse cx="507.20" cy="515.50" rx="4.7" ry="3.9" fill="#ff1a1a"/>
<ellipse cx="510.80" cy="505.58" rx="4.6" ry="3.8" fill="#ff1a1a"/><ellipse cx="510.80" cy="505.58" rx="2.4" ry="1.9" fill="#f8f020"/>
<ellipse cx="514.60" cy="495.99" rx="4.7" ry="3.9" fill="#ff1a1a"/>
<ellipse cx="518.80" cy="492.31" rx="4.7" ry="3.9" fill="#ff1a1a"/>
<ellipse cx="522.80" cy="501.92" rx="2.9" ry="2.4" fill="#f8f020"/>
<ellipse cx="526.40" cy="511.57" rx="4.7" ry="3.9" fill="#ff1a1a"/>
<ellipse cx="529.80" cy="521.21" rx="4.7" ry="3.9" fill="#ff1a1a"/>
<ellipse cx="533.00" cy="530.42" rx="4.7" ry="3.9" fill="#ff1a1a"/>
<ellipse cx="536.40" cy="539.96" rx="4.7" ry="3.9" fill="#ff1a1a"/>
<ellipse cx="540.20" cy="549.80" rx="2.9" ry="2.4" fill="#f8f020"/>
<ellipse cx="544.40" cy="559.00" rx="4.7" ry="3.9" fill="#ff1a1a"/>
<ellipse cx="550.00" cy="567.44" rx="4.6" ry="3.8" fill="#ff1a1a"/><ellipse cx="550.00" cy="567.44" rx="2.4" ry="1.9" fill="#f8f020"/>
</g>
<ellipse cx="341.2" cy="462.5" rx="2.6" ry="2.1" fill="#f8f020"/>
<ellipse cx="369.1" cy="464.7" rx="2.6" ry="2.1" fill="#f8f020"/>
<ellipse cx="395.3" cy="461.7" rx="2.6" ry="2.1" fill="#f8f020"/>
<ellipse cx="409.5" cy="465.8" rx="2.6" ry="2.1" fill="#f8f020"/>
<ellipse cx="350.5" cy="474.1" rx="2.6" ry="2.1" fill="#f8f020"/>
<ellipse cx="388.1" cy="476.3" rx="2.6" ry="2.1" fill="#f8f020"/>
<ellipse cx="414.3" cy="476.3" rx="2.6" ry="2.1" fill="#f8f020"/>
<ellipse cx="464.9" cy="461" rx="2.6" ry="2.1" fill="#f8f020"/>
<ellipse cx="497.6" cy="463.2" rx="2.6" ry="2.1" fill="#f8f020"/>
<ellipse cx="500.8" cy="462.1" rx="2.6" ry="2.1" fill="#f8f020"/>
<ellipse cx="511.8" cy="468" rx="2.6" ry="2.1" fill="#f8f020"/>
<ellipse cx="538" cy="460.3" rx="2.6" ry="2.1" fill="#f8f020"/>
<ellipse cx="439.8" cy="474.7" rx="2.6" ry="2.1" fill="#f8f020"/>
<ellipse cx="481.3" cy="476.7" rx="2.6" ry="2.1" fill="#f8f020"/>
<ellipse cx="534.3" cy="476.7" rx="2.6" ry="2.1" fill="#f8f020"/>
<ellipse cx="369.7" cy="475.2" rx="1.8" ry="3.0" fill="#20e0f0" transform="rotate(30 369.7 475.2)"/>
<ellipse cx="457.3" cy="471.5" rx="1.8" ry="3.0" fill="#20e0f0" transform="rotate(30 457.3 471.5)"/>
<ellipse cx="503.1" cy="476.3" rx="1.8" ry="3.0" fill="#20e0f0" transform="rotate(30 503.1 476.3)"/>
<ellipse cx="381" cy="530.5" rx="1.6" ry="2.8" fill="#20e0f0" transform="rotate(25 381 530.5)"/>
<ellipse cx="536.5" cy="542" rx="1.6" ry="2.8" fill="#20e0f0" transform="rotate(25 536.5 542)"/>
<text x="342.20" y="452.69" font-size="12.4" text-anchor="middle" font-family='"Liberation Serif", serif' font-weight="bold" fill="#ff00ff" stroke="#ff00ff" stroke-width="0.2" >flow</text>
<line x1="330.50" y1="456.60" x2="359.00" y2="456.60" stroke="#ff00ff" stroke-width="1.3" />
<path d="M365,456.6 L358,454 L358,459.2 Z" fill="#ff00ff"/>
<text x="396.4" y="450.70" font-size="12.6" font-family='"Liberation Serif", serif' font-weight="bold" fill="#ff00ff" stroke="#ff00ff" stroke-width="0.2">Si3N4 ball</text>
<text x="511.20" y="456.39" font-size="12.4" text-anchor="middle" font-family='"Liberation Serif", serif' font-weight="bold" fill="#ff00ff" stroke="#ff00ff" stroke-width="0.2" >flow</text>
<line x1="470.40" y1="458.80" x2="505.00" y2="458.80" stroke="#ff00ff" stroke-width="1.3" />
<path d="M511,458.8 L504,456.2 L504,461.4 Z" fill="#ff00ff"/>
<text x="354.30" y="485.92" font-size="12.8" text-anchor="middle" font-family='"Liberation Serif", serif' font-weight="bold" fill="#f0f020" stroke="#f0f020" stroke-width="0.2" >Exit</text>
<text x="481.90" y="490.46" font-size="13.2" text-anchor="middle" font-family='"Liberation Serif", serif' font-weight="bold" fill="#f0f020" stroke="#f0f020" stroke-width="0.2" >precipitate</text>
<path d="M440.9,488.3 L440.9,478 L472,478" fill="none" stroke="#f0f020" stroke-width="1.2"/>
<path d="M477.8,478 L471.5,475.6 L471.5,480.4 Z" fill="#f0f020"/>
<text x="404.40" y="510.16" font-size="12.9" text-anchor="middle" font-family='"Liberation Serif", serif' font-weight="bold" fill="#f0f020" stroke="#f0f020" stroke-width="0.2" >Wrapped</text>
<line x1="413.90" y1="500.50" x2="413.90" y2="486.00" stroke="#f0f020" stroke-width="1.2" />
<path d="M413.9,480.8 L411.5,487 L416.3,487 Z" fill="#f0f020"/>
<text x="404" y="529.80" font-size="13.1" text-anchor="middle" font-family='"Liberation Serif", serif' font-weight="bold" fill="#f0f020" stroke="#f0f020" stroke-width="0.2">Al<tspan font-size="9" dy="1">2</tspan><tspan dy="-1">O</tspan><tspan font-size="9" dy="1">3</tspan></text>
<text x="389.60" y="585.26" font-size="13.2" text-anchor="middle" font-family='"Liberation Serif", serif' font-weight="bold" fill="#f0f020" stroke="#f0f020" stroke-width="0.2" >Sinusoidal channel</text>
<text x="498.40" y="587.06" font-size="13.2" text-anchor="middle" font-family='"Liberation Serif", serif' font-weight="bold" fill="#f0f020" stroke="#f0f020" stroke-width="0.2" >SAC4</text>
<line x1="497.60" y1="576.80" x2="497.60" y2="563.00" stroke="#f0f020" stroke-width="1.2" />
<path d="M497.6,557.6 L495.2,563.8 L500,563.8 Z" fill="#f0f020"/>
<text x="6.50" y="21.84" font-size="18" text-anchor="start" font-family='"Liberation Serif", serif' fill="#111" >(a)</text>
<text x="272.80" y="20.74" font-size="18" text-anchor="start" font-family='"Liberation Serif", serif' fill="#111" >(b)</text>
<text x="6.80" y="233.94" font-size="18" text-anchor="start" font-family='"Liberation Serif", serif' fill="#111" >(c)</text>
<text x="272.80" y="234.34" font-size="18" text-anchor="start" font-family='"Liberation Serif", serif' fill="#111" >(d)</text>
<text x="6.80" y="434.24" font-size="18" text-anchor="start" font-family='"Liberation Serif", serif' fill="#111" >(e)</text>
<rect x="2.20" y="2.50" width="3.30" height="610.30" fill="#0c9be0" stroke="none" stroke-width="1" />
<rect x="2.20" y="2.50" width="545.80" height="3.90" fill="#0c9be0" stroke="none" stroke-width="1" />
<rect x="544.50" y="2.50" width="3.50" height="610.30" fill="#0c9be0" stroke="none" stroke-width="1" />
<rect x="2.20" y="609.20" width="545.80" height="3.60" fill="#0c9be0" stroke="none" stroke-width="1" />
<rect x="2.20" y="215.10" width="545.80" height="3.50" fill="#0c9be0" stroke="none" stroke-width="1" />
</svg></body></html>
